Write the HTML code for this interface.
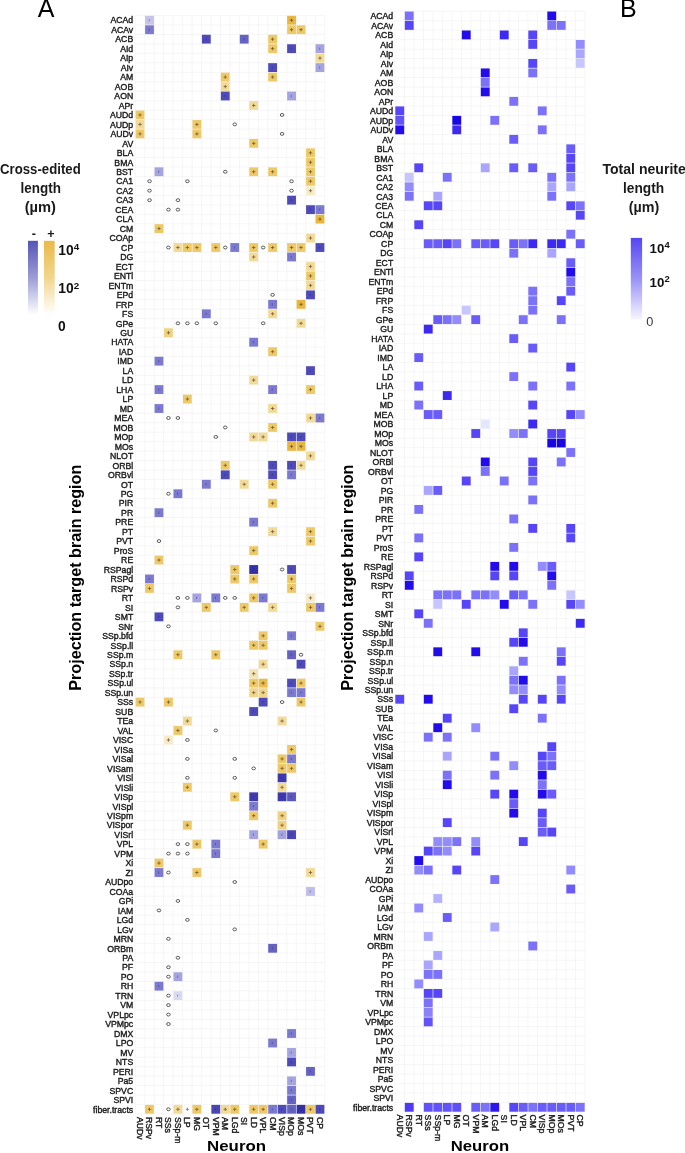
<!DOCTYPE html>
<html><head><meta charset="utf-8"><title>Cross-edited length and total neurite length</title>
<style>html,body{margin:0;padding:0;background:#fff;}body{width:685px;height:1153px;overflow:hidden;}svg{display:block;}</style>
</head><body>
<svg width="685" height="1153" viewBox="0 0 685 1153" font-family='"Liberation Sans", Arial, sans-serif'><path d="M135.3 15.5V1114.02M144.77 15.5V1114.02M154.24 15.5V1114.02M163.71 15.5V1114.02M173.18 15.5V1114.02M182.65 15.5V1114.02M192.12 15.5V1114.02M201.59 15.5V1114.02M211.06 15.5V1114.02M220.53 15.5V1114.02M230 15.5V1114.02M239.47 15.5V1114.02M248.94 15.5V1114.02M258.41 15.5V1114.02M267.88 15.5V1114.02M277.35 15.5V1114.02M286.82 15.5V1114.02M296.29 15.5V1114.02M305.76 15.5V1114.02M315.23 15.5V1114.02M324.7 15.5V1114.02M135.3 15.5H324.7M135.3 24.97H324.7M135.3 34.44H324.7M135.3 43.91H324.7M135.3 53.38H324.7M135.3 62.85H324.7M135.3 72.32H324.7M135.3 81.79H324.7M135.3 91.26H324.7M135.3 100.73H324.7M135.3 110.2H324.7M135.3 119.67H324.7M135.3 129.14H324.7M135.3 138.61H324.7M135.3 148.08H324.7M135.3 157.55H324.7M135.3 167.02H324.7M135.3 176.49H324.7M135.3 185.96H324.7M135.3 195.43H324.7M135.3 204.9H324.7M135.3 214.37H324.7M135.3 223.84H324.7M135.3 233.31H324.7M135.3 242.78H324.7M135.3 252.25H324.7M135.3 261.72H324.7M135.3 271.19H324.7M135.3 280.66H324.7M135.3 290.13H324.7M135.3 299.6H324.7M135.3 309.07H324.7M135.3 318.54H324.7M135.3 328.01H324.7M135.3 337.48H324.7M135.3 346.95H324.7M135.3 356.42H324.7M135.3 365.89H324.7M135.3 375.36H324.7M135.3 384.83H324.7M135.3 394.3H324.7M135.3 403.77H324.7M135.3 413.24H324.7M135.3 422.71H324.7M135.3 432.18H324.7M135.3 441.65H324.7M135.3 451.12H324.7M135.3 460.59H324.7M135.3 470.06H324.7M135.3 479.53H324.7M135.3 489H324.7M135.3 498.47H324.7M135.3 507.94H324.7M135.3 517.41H324.7M135.3 526.88H324.7M135.3 536.35H324.7M135.3 545.82H324.7M135.3 555.29H324.7M135.3 564.76H324.7M135.3 574.23H324.7M135.3 583.7H324.7M135.3 593.17H324.7M135.3 602.64H324.7M135.3 612.11H324.7M135.3 621.58H324.7M135.3 631.05H324.7M135.3 640.52H324.7M135.3 649.99H324.7M135.3 659.46H324.7M135.3 668.93H324.7M135.3 678.4H324.7M135.3 687.87H324.7M135.3 697.34H324.7M135.3 706.81H324.7M135.3 716.28H324.7M135.3 725.75H324.7M135.3 735.22H324.7M135.3 744.69H324.7M135.3 754.16H324.7M135.3 763.63H324.7M135.3 773.1H324.7M135.3 782.57H324.7M135.3 792.04H324.7M135.3 801.51H324.7M135.3 810.98H324.7M135.3 820.45H324.7M135.3 829.92H324.7M135.3 839.39H324.7M135.3 848.86H324.7M135.3 858.33H324.7M135.3 867.8H324.7M135.3 877.27H324.7M135.3 886.74H324.7M135.3 896.21H324.7M135.3 905.68H324.7M135.3 915.15H324.7M135.3 924.62H324.7M135.3 934.09H324.7M135.3 943.56H324.7M135.3 953.03H324.7M135.3 962.5H324.7M135.3 971.97H324.7M135.3 981.44H324.7M135.3 990.91H324.7M135.3 1000.38H324.7M135.3 1009.85H324.7M135.3 1019.32H324.7M135.3 1028.79H324.7M135.3 1038.26H324.7M135.3 1047.73H324.7M135.3 1057.2H324.7M135.3 1066.67H324.7M135.3 1076.14H324.7M135.3 1085.61H324.7M135.3 1095.08H324.7M135.3 1104.55H324.7M135.3 1114.02H324.7" stroke="#f0f0f0" stroke-width="0.6" fill="none"/><rect x="145.09" y="15.82" width="8.83" height="8.83" fill="#c5c4eb"/><path d="M149.21 19.13v2.2" stroke="#2a2a60" stroke-width="0.8" opacity="0.55"/><rect x="287.14" y="15.82" width="8.83" height="8.83" fill="#e9b740"/><path d="M289.86 20.23h3.4M291.56 18.54v3.4" stroke="#5f4a1e" stroke-width="0.75" opacity="0.9"/><rect x="145.09" y="25.29" width="8.83" height="8.83" fill="#7c7ad0"/><path d="M149.21 28.61v2.2" stroke="#2a2a60" stroke-width="0.8" opacity="0.55"/><rect x="287.14" y="25.29" width="8.83" height="8.83" fill="#eec968"/><path d="M289.86 29.71h3.4M291.56 28.01v3.4" stroke="#5f4a1e" stroke-width="0.75" opacity="0.9"/><rect x="296.61" y="25.29" width="8.83" height="8.83" fill="#eec968"/><path d="M299.33 29.71h3.4M301.03 28.01v3.4" stroke="#5f4a1e" stroke-width="0.75" opacity="0.9"/><rect x="201.91" y="34.76" width="8.83" height="8.83" fill="#4e4ab9"/><path d="M206.03 38.07v2.2" stroke="#2a2a60" stroke-width="0.8" opacity="0.55"/><rect x="239.79" y="34.76" width="8.83" height="8.83" fill="#6562c4"/><path d="M243.91 38.07v2.2" stroke="#2a2a60" stroke-width="0.8" opacity="0.55"/><rect x="268.2" y="34.76" width="8.83" height="8.83" fill="#eec968"/><path d="M270.92 39.17h3.4M272.62 37.47v3.4" stroke="#5f4a1e" stroke-width="0.75" opacity="0.9"/><rect x="268.2" y="44.23" width="8.83" height="8.83" fill="#eec968"/><path d="M270.92 48.65h3.4M272.62 46.95v3.4" stroke="#5f4a1e" stroke-width="0.75" opacity="0.9"/><rect x="287.14" y="44.23" width="8.83" height="8.83" fill="#4e4ab9"/><path d="M291.26 47.55v2.2" stroke="#2a2a60" stroke-width="0.8" opacity="0.55"/><rect x="315.55" y="44.23" width="8.83" height="8.83" fill="#a5a3e0"/><path d="M319.67 47.55v2.2" stroke="#2a2a60" stroke-width="0.8" opacity="0.55"/><rect x="315.55" y="53.7" width="8.83" height="8.83" fill="#f2db98"/><path d="M318.27 58.12h3.4M319.97 56.41v3.4" stroke="#5f4a1e" stroke-width="0.75" opacity="0.9"/><rect x="268.2" y="63.17" width="8.83" height="8.83" fill="#4e4ab9"/><path d="M272.31 66.49v2.2" stroke="#2a2a60" stroke-width="0.8" opacity="0.55"/><rect x="315.55" y="63.17" width="8.83" height="8.83" fill="#a5a3e0"/><path d="M319.67 66.49v2.2" stroke="#2a2a60" stroke-width="0.8" opacity="0.55"/><rect x="220.85" y="72.64" width="8.83" height="8.83" fill="#eec968"/><path d="M223.57 77.06h3.4M225.27 75.36v3.4" stroke="#5f4a1e" stroke-width="0.75" opacity="0.9"/><rect x="268.2" y="72.64" width="8.83" height="8.83" fill="#eec968"/><path d="M270.92 77.06h3.4M272.62 75.36v3.4" stroke="#5f4a1e" stroke-width="0.75" opacity="0.9"/><rect x="220.85" y="82.11" width="8.83" height="8.83" fill="#f2db98"/><path d="M223.57 86.53h3.4M225.27 84.83v3.4" stroke="#5f4a1e" stroke-width="0.75" opacity="0.9"/><rect x="220.85" y="91.58" width="8.83" height="8.83" fill="#4e4ab9"/><path d="M224.97 94.9v2.2" stroke="#2a2a60" stroke-width="0.8" opacity="0.55"/><rect x="287.14" y="91.58" width="8.83" height="8.83" fill="#a5a3e0"/><path d="M291.26 94.9v2.2" stroke="#2a2a60" stroke-width="0.8" opacity="0.55"/><rect x="249.26" y="101.05" width="8.83" height="8.83" fill="#f2db98"/><path d="M251.98 105.47h3.4M253.68 103.77v3.4" stroke="#5f4a1e" stroke-width="0.75" opacity="0.9"/><rect x="135.62" y="110.52" width="8.83" height="8.83" fill="#eec968"/><path d="M138.34 114.94h3.4M140.04 113.23v3.4" stroke="#5f4a1e" stroke-width="0.75" opacity="0.9"/><ellipse cx="282.09" cy="114.94" rx="1.8" ry="1.45" fill="none" stroke="#4a4a4a" stroke-width="0.9"/><rect x="135.62" y="119.99" width="8.83" height="8.83" fill="#f2db98"/><path d="M138.34 124.41h3.4M140.04 122.7v3.4" stroke="#5f4a1e" stroke-width="0.75" opacity="0.9"/><rect x="192.44" y="119.99" width="8.83" height="8.83" fill="#eec968"/><path d="M195.16 124.41h3.4M196.86 122.7v3.4" stroke="#5f4a1e" stroke-width="0.75" opacity="0.9"/><ellipse cx="234.74" cy="124.41" rx="1.8" ry="1.45" fill="none" stroke="#4a4a4a" stroke-width="0.9"/><rect x="135.62" y="129.46" width="8.83" height="8.83" fill="#eec968"/><path d="M138.34 133.88h3.4M140.04 132.18v3.4" stroke="#5f4a1e" stroke-width="0.75" opacity="0.9"/><rect x="192.44" y="129.46" width="8.83" height="8.83" fill="#eec968"/><path d="M195.16 133.88h3.4M196.86 132.18v3.4" stroke="#5f4a1e" stroke-width="0.75" opacity="0.9"/><ellipse cx="282.09" cy="133.88" rx="1.8" ry="1.45" fill="none" stroke="#4a4a4a" stroke-width="0.9"/><rect x="249.26" y="138.93" width="8.83" height="8.83" fill="#eec968"/><path d="M251.98 143.35h3.4M253.68 141.65v3.4" stroke="#5f4a1e" stroke-width="0.75" opacity="0.9"/><rect x="306.08" y="148.4" width="8.83" height="8.83" fill="#eec968"/><path d="M308.8 152.81h3.4M310.5 151.12v3.4" stroke="#5f4a1e" stroke-width="0.75" opacity="0.9"/><rect x="306.08" y="157.87" width="8.83" height="8.83" fill="#eec968"/><path d="M308.8 162.28h3.4M310.5 160.59v3.4" stroke="#5f4a1e" stroke-width="0.75" opacity="0.9"/><rect x="154.56" y="167.34" width="8.83" height="8.83" fill="#a5a3e0"/><path d="M158.68 170.66v2.2" stroke="#2a2a60" stroke-width="0.8" opacity="0.55"/><ellipse cx="225.27" cy="171.76" rx="1.8" ry="1.45" fill="none" stroke="#4a4a4a" stroke-width="0.9"/><rect x="249.26" y="167.34" width="8.83" height="8.83" fill="#eec968"/><path d="M251.98 171.76h3.4M253.68 170.06v3.4" stroke="#5f4a1e" stroke-width="0.75" opacity="0.9"/><rect x="268.2" y="167.34" width="8.83" height="8.83" fill="#eec968"/><path d="M270.92 171.76h3.4M272.62 170.06v3.4" stroke="#5f4a1e" stroke-width="0.75" opacity="0.9"/><rect x="306.08" y="167.34" width="8.83" height="8.83" fill="#eec968"/><path d="M308.8 171.76h3.4M310.5 170.06v3.4" stroke="#5f4a1e" stroke-width="0.75" opacity="0.9"/><ellipse cx="149.51" cy="181.23" rx="1.8" ry="1.45" fill="none" stroke="#4a4a4a" stroke-width="0.9"/><ellipse cx="187.39" cy="181.23" rx="1.8" ry="1.45" fill="none" stroke="#4a4a4a" stroke-width="0.9"/><ellipse cx="291.56" cy="181.23" rx="1.8" ry="1.45" fill="none" stroke="#4a4a4a" stroke-width="0.9"/><rect x="306.08" y="176.81" width="8.83" height="8.83" fill="#eec968"/><path d="M308.8 181.23h3.4M310.5 179.53v3.4" stroke="#5f4a1e" stroke-width="0.75" opacity="0.9"/><ellipse cx="149.51" cy="190.7" rx="1.8" ry="1.45" fill="none" stroke="#4a4a4a" stroke-width="0.9"/><ellipse cx="291.56" cy="190.7" rx="1.8" ry="1.45" fill="none" stroke="#4a4a4a" stroke-width="0.9"/><rect x="306.08" y="186.28" width="8.83" height="8.83" fill="#f7ecca"/><path d="M308.8 190.7h3.4M310.5 189v3.4" stroke="#5f4a1e" stroke-width="0.75" opacity="0.9"/><ellipse cx="149.51" cy="200.17" rx="1.8" ry="1.45" fill="none" stroke="#4a4a4a" stroke-width="0.9"/><ellipse cx="177.92" cy="200.17" rx="1.8" ry="1.45" fill="none" stroke="#4a4a4a" stroke-width="0.9"/><rect x="287.14" y="195.75" width="8.83" height="8.83" fill="#4e4ab9"/><path d="M291.26 199.07v2.2" stroke="#2a2a60" stroke-width="0.8" opacity="0.55"/><ellipse cx="168.45" cy="209.64" rx="1.8" ry="1.45" fill="none" stroke="#4a4a4a" stroke-width="0.9"/><ellipse cx="177.92" cy="209.64" rx="1.8" ry="1.45" fill="none" stroke="#4a4a4a" stroke-width="0.9"/><rect x="306.08" y="205.22" width="8.83" height="8.83" fill="#4e4ab9"/><path d="M310.19 208.54v2.2" stroke="#2a2a60" stroke-width="0.8" opacity="0.55"/><rect x="315.55" y="205.22" width="8.83" height="8.83" fill="#7c7ad0"/><path d="M319.67 208.54v2.2" stroke="#2a2a60" stroke-width="0.8" opacity="0.55"/><rect x="315.55" y="214.69" width="8.83" height="8.83" fill="#e9b740"/><path d="M318.27 219.11h3.4M319.97 217.41v3.4" stroke="#5f4a1e" stroke-width="0.75" opacity="0.9"/><rect x="154.56" y="224.16" width="8.83" height="8.83" fill="#eec968"/><path d="M157.28 228.58h3.4M158.98 226.88v3.4" stroke="#5f4a1e" stroke-width="0.75" opacity="0.9"/><rect x="306.08" y="233.63" width="8.83" height="8.83" fill="#f2db98"/><path d="M308.8 238.05h3.4M310.5 236.35v3.4" stroke="#5f4a1e" stroke-width="0.75" opacity="0.9"/><ellipse cx="168.45" cy="247.52" rx="1.8" ry="1.45" fill="none" stroke="#4a4a4a" stroke-width="0.9"/><rect x="173.5" y="243.1" width="8.83" height="8.83" fill="#f2db98"/><path d="M176.22 247.52h3.4M177.92 245.82v3.4" stroke="#5f4a1e" stroke-width="0.75" opacity="0.9"/><rect x="182.97" y="243.1" width="8.83" height="8.83" fill="#eec968"/><path d="M185.69 247.52h3.4M187.39 245.82v3.4" stroke="#5f4a1e" stroke-width="0.75" opacity="0.9"/><rect x="192.44" y="243.1" width="8.83" height="8.83" fill="#eec968"/><path d="M195.16 247.52h3.4M196.86 245.82v3.4" stroke="#5f4a1e" stroke-width="0.75" opacity="0.9"/><rect x="211.38" y="243.1" width="8.83" height="8.83" fill="#eec968"/><path d="M214.1 247.52h3.4M215.8 245.82v3.4" stroke="#5f4a1e" stroke-width="0.75" opacity="0.9"/><ellipse cx="225.27" cy="247.52" rx="1.8" ry="1.45" fill="none" stroke="#4a4a4a" stroke-width="0.9"/><rect x="230.32" y="243.1" width="8.83" height="8.83" fill="#7c7ad0"/><path d="M234.44 246.42v2.2" stroke="#2a2a60" stroke-width="0.8" opacity="0.55"/><rect x="249.26" y="243.1" width="8.83" height="8.83" fill="#eec968"/><path d="M251.98 247.52h3.4M253.68 245.82v3.4" stroke="#5f4a1e" stroke-width="0.75" opacity="0.9"/><ellipse cx="263.15" cy="247.52" rx="1.8" ry="1.45" fill="none" stroke="#4a4a4a" stroke-width="0.9"/><rect x="268.2" y="243.1" width="8.83" height="8.83" fill="#eec968"/><path d="M270.92 247.52h3.4M272.62 245.82v3.4" stroke="#5f4a1e" stroke-width="0.75" opacity="0.9"/><rect x="287.14" y="243.1" width="8.83" height="8.83" fill="#eec968"/><path d="M289.86 247.52h3.4M291.56 245.82v3.4" stroke="#5f4a1e" stroke-width="0.75" opacity="0.9"/><rect x="296.61" y="243.1" width="8.83" height="8.83" fill="#eec968"/><path d="M299.33 247.52h3.4M301.03 245.82v3.4" stroke="#5f4a1e" stroke-width="0.75" opacity="0.9"/><rect x="315.55" y="243.1" width="8.83" height="8.83" fill="#4e4ab9"/><path d="M319.67 246.42v2.2" stroke="#2a2a60" stroke-width="0.8" opacity="0.55"/><rect x="249.26" y="252.57" width="8.83" height="8.83" fill="#f2db98"/><path d="M251.98 256.99h3.4M253.68 255.29v3.4" stroke="#5f4a1e" stroke-width="0.75" opacity="0.9"/><rect x="287.14" y="252.57" width="8.83" height="8.83" fill="#7c7ad0"/><path d="M291.26 255.89v2.2" stroke="#2a2a60" stroke-width="0.8" opacity="0.55"/><rect x="306.08" y="262.04" width="8.83" height="8.83" fill="#f2db98"/><path d="M308.8 266.46h3.4M310.5 264.76v3.4" stroke="#5f4a1e" stroke-width="0.75" opacity="0.9"/><rect x="306.08" y="271.51" width="8.83" height="8.83" fill="#eec968"/><path d="M308.8 275.93h3.4M310.5 274.23v3.4" stroke="#5f4a1e" stroke-width="0.75" opacity="0.9"/><rect x="306.08" y="280.98" width="8.83" height="8.83" fill="#f2db98"/><path d="M308.8 285.4h3.4M310.5 283.7v3.4" stroke="#5f4a1e" stroke-width="0.75" opacity="0.9"/><ellipse cx="272.62" cy="294.87" rx="1.8" ry="1.45" fill="none" stroke="#4a4a4a" stroke-width="0.9"/><rect x="306.08" y="290.45" width="8.83" height="8.83" fill="#4e4ab9"/><path d="M310.19 293.76v2.2" stroke="#2a2a60" stroke-width="0.8" opacity="0.55"/><rect x="268.2" y="299.92" width="8.83" height="8.83" fill="#7c7ad0"/><path d="M272.31 303.24v2.2" stroke="#2a2a60" stroke-width="0.8" opacity="0.55"/><rect x="296.61" y="299.92" width="8.83" height="8.83" fill="#e9b740"/><path d="M299.33 304.34h3.4M301.03 302.64v3.4" stroke="#5f4a1e" stroke-width="0.75" opacity="0.9"/><rect x="201.91" y="309.39" width="8.83" height="8.83" fill="#7c7ad0"/><path d="M206.03 312.7v2.2" stroke="#2a2a60" stroke-width="0.8" opacity="0.55"/><rect x="268.2" y="309.39" width="8.83" height="8.83" fill="#f2db98"/><path d="M270.92 313.81h3.4M272.62 312.11v3.4" stroke="#5f4a1e" stroke-width="0.75" opacity="0.9"/><ellipse cx="177.92" cy="323.28" rx="1.8" ry="1.45" fill="none" stroke="#4a4a4a" stroke-width="0.9"/><ellipse cx="187.39" cy="323.28" rx="1.8" ry="1.45" fill="none" stroke="#4a4a4a" stroke-width="0.9"/><ellipse cx="196.86" cy="323.28" rx="1.8" ry="1.45" fill="none" stroke="#4a4a4a" stroke-width="0.9"/><ellipse cx="215.8" cy="323.28" rx="1.8" ry="1.45" fill="none" stroke="#4a4a4a" stroke-width="0.9"/><ellipse cx="263.15" cy="323.28" rx="1.8" ry="1.45" fill="none" stroke="#4a4a4a" stroke-width="0.9"/><rect x="296.61" y="318.86" width="8.83" height="8.83" fill="#f2db98"/><path d="M299.33 323.28h3.4M301.03 321.58v3.4" stroke="#5f4a1e" stroke-width="0.75" opacity="0.9"/><rect x="164.03" y="328.33" width="8.83" height="8.83" fill="#f0d280"/><path d="M166.75 332.75h3.4M168.45 331.05v3.4" stroke="#5f4a1e" stroke-width="0.75" opacity="0.9"/><rect x="249.26" y="337.8" width="8.83" height="8.83" fill="#7c7ad0"/><path d="M253.38 341.12v2.2" stroke="#2a2a60" stroke-width="0.8" opacity="0.55"/><rect x="268.2" y="347.27" width="8.83" height="8.83" fill="#eec968"/><path d="M270.92 351.69h3.4M272.62 349.99v3.4" stroke="#5f4a1e" stroke-width="0.75" opacity="0.9"/><rect x="154.56" y="356.74" width="8.83" height="8.83" fill="#7c7ad0"/><path d="M158.68 360.06v2.2" stroke="#2a2a60" stroke-width="0.8" opacity="0.55"/><rect x="306.08" y="366.21" width="8.83" height="8.83" fill="#4e4ab9"/><path d="M310.19 369.52v2.2" stroke="#2a2a60" stroke-width="0.8" opacity="0.55"/><rect x="249.26" y="375.68" width="8.83" height="8.83" fill="#f2db98"/><path d="M251.98 380.1h3.4M253.68 378.4v3.4" stroke="#5f4a1e" stroke-width="0.75" opacity="0.9"/><rect x="154.56" y="385.15" width="8.83" height="8.83" fill="#7c7ad0"/><path d="M158.68 388.46v2.2" stroke="#2a2a60" stroke-width="0.8" opacity="0.55"/><rect x="268.2" y="385.15" width="8.83" height="8.83" fill="#7c7ad0"/><path d="M272.31 388.46v2.2" stroke="#2a2a60" stroke-width="0.8" opacity="0.55"/><rect x="306.08" y="385.15" width="8.83" height="8.83" fill="#eec968"/><path d="M308.8 389.56h3.4M310.5 387.87v3.4" stroke="#5f4a1e" stroke-width="0.75" opacity="0.9"/><rect x="182.97" y="394.62" width="8.83" height="8.83" fill="#eec968"/><path d="M185.69 399.04h3.4M187.39 397.34v3.4" stroke="#5f4a1e" stroke-width="0.75" opacity="0.9"/><rect x="154.56" y="404.09" width="8.83" height="8.83" fill="#7c7ad0"/><path d="M158.68 407.41v2.2" stroke="#2a2a60" stroke-width="0.8" opacity="0.55"/><rect x="268.2" y="404.09" width="8.83" height="8.83" fill="#f2db98"/><path d="M270.92 408.51h3.4M272.62 406.81v3.4" stroke="#5f4a1e" stroke-width="0.75" opacity="0.9"/><ellipse cx="168.45" cy="417.98" rx="1.8" ry="1.45" fill="none" stroke="#4a4a4a" stroke-width="0.9"/><ellipse cx="177.92" cy="417.98" rx="1.8" ry="1.45" fill="none" stroke="#4a4a4a" stroke-width="0.9"/><rect x="306.08" y="413.56" width="8.83" height="8.83" fill="#f2db98"/><path d="M308.8 417.98h3.4M310.5 416.28v3.4" stroke="#5f4a1e" stroke-width="0.75" opacity="0.9"/><rect x="315.55" y="413.56" width="8.83" height="8.83" fill="#7c7ad0"/><path d="M319.67 416.88v2.2" stroke="#2a2a60" stroke-width="0.8" opacity="0.55"/><ellipse cx="225.27" cy="427.45" rx="1.8" ry="1.45" fill="none" stroke="#4a4a4a" stroke-width="0.9"/><rect x="268.2" y="423.03" width="8.83" height="8.83" fill="#eec968"/><path d="M270.92 427.45h3.4M272.62 425.75v3.4" stroke="#5f4a1e" stroke-width="0.75" opacity="0.9"/><ellipse cx="215.8" cy="436.92" rx="1.8" ry="1.45" fill="none" stroke="#4a4a4a" stroke-width="0.9"/><rect x="249.26" y="432.5" width="8.83" height="8.83" fill="#f2db98"/><path d="M251.98 436.92h3.4M253.68 435.22v3.4" stroke="#5f4a1e" stroke-width="0.75" opacity="0.9"/><rect x="258.73" y="432.5" width="8.83" height="8.83" fill="#f2db98"/><path d="M261.45 436.92h3.4M263.15 435.22v3.4" stroke="#5f4a1e" stroke-width="0.75" opacity="0.9"/><rect x="287.14" y="432.5" width="8.83" height="8.83" fill="#4e4ab9"/><path d="M291.26 435.81v2.2" stroke="#2a2a60" stroke-width="0.8" opacity="0.55"/><rect x="296.61" y="432.5" width="8.83" height="8.83" fill="#4e4ab9"/><path d="M300.73 435.81v2.2" stroke="#2a2a60" stroke-width="0.8" opacity="0.55"/><rect x="287.14" y="441.97" width="8.83" height="8.83" fill="#e9b740"/><path d="M289.86 446.39h3.4M291.56 444.69v3.4" stroke="#5f4a1e" stroke-width="0.75" opacity="0.9"/><rect x="296.61" y="441.97" width="8.83" height="8.83" fill="#e9b740"/><path d="M299.33 446.39h3.4M301.03 444.69v3.4" stroke="#5f4a1e" stroke-width="0.75" opacity="0.9"/><rect x="306.08" y="451.44" width="8.83" height="8.83" fill="#f2db98"/><path d="M308.8 455.86h3.4M310.5 454.16v3.4" stroke="#5f4a1e" stroke-width="0.75" opacity="0.9"/><rect x="220.85" y="460.91" width="8.83" height="8.83" fill="#eec968"/><path d="M223.57 465.33h3.4M225.27 463.63v3.4" stroke="#5f4a1e" stroke-width="0.75" opacity="0.9"/><rect x="268.2" y="460.91" width="8.83" height="8.83" fill="#4e4ab9"/><path d="M272.31 464.23v2.2" stroke="#2a2a60" stroke-width="0.8" opacity="0.55"/><rect x="287.14" y="460.91" width="8.83" height="8.83" fill="#4e4ab9"/><path d="M291.26 464.23v2.2" stroke="#2a2a60" stroke-width="0.8" opacity="0.55"/><rect x="296.61" y="460.91" width="8.83" height="8.83" fill="#f2db98"/><path d="M299.33 465.33h3.4M301.03 463.63v3.4" stroke="#5f4a1e" stroke-width="0.75" opacity="0.9"/><rect x="220.85" y="470.38" width="8.83" height="8.83" fill="#4e4ab9"/><path d="M224.97 473.69v2.2" stroke="#2a2a60" stroke-width="0.8" opacity="0.55"/><rect x="268.2" y="470.38" width="8.83" height="8.83" fill="#4e4ab9"/><path d="M272.31 473.69v2.2" stroke="#2a2a60" stroke-width="0.8" opacity="0.55"/><rect x="287.14" y="470.38" width="8.83" height="8.83" fill="#7c7ad0"/><path d="M291.26 473.69v2.2" stroke="#2a2a60" stroke-width="0.8" opacity="0.55"/><rect x="201.91" y="479.85" width="8.83" height="8.83" fill="#7c7ad0"/><path d="M206.03 483.17v2.2" stroke="#2a2a60" stroke-width="0.8" opacity="0.55"/><rect x="239.79" y="479.85" width="8.83" height="8.83" fill="#f2db98"/><path d="M242.51 484.27h3.4M244.21 482.57v3.4" stroke="#5f4a1e" stroke-width="0.75" opacity="0.9"/><rect x="268.2" y="479.85" width="8.83" height="8.83" fill="#eec968"/><path d="M270.92 484.27h3.4M272.62 482.57v3.4" stroke="#5f4a1e" stroke-width="0.75" opacity="0.9"/><ellipse cx="168.45" cy="493.74" rx="1.8" ry="1.45" fill="none" stroke="#4a4a4a" stroke-width="0.9"/><rect x="173.5" y="489.32" width="8.83" height="8.83" fill="#7c7ad0"/><path d="M177.62 492.63v2.2" stroke="#2a2a60" stroke-width="0.8" opacity="0.55"/><rect x="268.2" y="498.79" width="8.83" height="8.83" fill="#eec968"/><path d="M270.92 503.21h3.4M272.62 501.51v3.4" stroke="#5f4a1e" stroke-width="0.75" opacity="0.9"/><rect x="154.56" y="508.26" width="8.83" height="8.83" fill="#7c7ad0"/><path d="M158.68 511.57v2.2" stroke="#2a2a60" stroke-width="0.8" opacity="0.55"/><rect x="249.26" y="517.73" width="8.83" height="8.83" fill="#7c7ad0"/><path d="M253.38 521.04v2.2" stroke="#2a2a60" stroke-width="0.8" opacity="0.55"/><rect x="268.2" y="527.2" width="8.83" height="8.83" fill="#f2db98"/><path d="M270.92 531.62h3.4M272.62 529.91v3.4" stroke="#5f4a1e" stroke-width="0.75" opacity="0.9"/><rect x="306.08" y="527.2" width="8.83" height="8.83" fill="#eec968"/><path d="M308.8 531.62h3.4M310.5 529.91v3.4" stroke="#5f4a1e" stroke-width="0.75" opacity="0.9"/><ellipse cx="158.98" cy="541.09" rx="1.8" ry="1.45" fill="none" stroke="#4a4a4a" stroke-width="0.9"/><rect x="306.08" y="536.67" width="8.83" height="8.83" fill="#eec968"/><path d="M308.8 541.09h3.4M310.5 539.38v3.4" stroke="#5f4a1e" stroke-width="0.75" opacity="0.9"/><rect x="249.26" y="546.14" width="8.83" height="8.83" fill="#eec968"/><path d="M251.98 550.56h3.4M253.68 548.86v3.4" stroke="#5f4a1e" stroke-width="0.75" opacity="0.9"/><rect x="154.56" y="555.61" width="8.83" height="8.83" fill="#eec968"/><path d="M157.28 560.03h3.4M158.98 558.33v3.4" stroke="#5f4a1e" stroke-width="0.75" opacity="0.9"/><rect x="230.32" y="565.08" width="8.83" height="8.83" fill="#eec968"/><path d="M233.04 569.5h3.4M234.74 567.79v3.4" stroke="#5f4a1e" stroke-width="0.75" opacity="0.9"/><rect x="249.26" y="565.08" width="8.83" height="8.83" fill="#3430a5"/><path d="M253.38 568.39v2.2" stroke="#2a2a60" stroke-width="0.8" opacity="0.55"/><ellipse cx="282.09" cy="569.5" rx="1.8" ry="1.45" fill="none" stroke="#4a4a4a" stroke-width="0.9"/><rect x="287.14" y="565.08" width="8.83" height="8.83" fill="#4e4ab9"/><path d="M291.26 568.39v2.2" stroke="#2a2a60" stroke-width="0.8" opacity="0.55"/><rect x="145.09" y="574.55" width="8.83" height="8.83" fill="#7c7ad0"/><path d="M149.21 577.87v2.2" stroke="#2a2a60" stroke-width="0.8" opacity="0.55"/><rect x="230.32" y="574.55" width="8.83" height="8.83" fill="#eec968"/><path d="M233.04 578.97h3.4M234.74 577.26v3.4" stroke="#5f4a1e" stroke-width="0.75" opacity="0.9"/><rect x="249.26" y="574.55" width="8.83" height="8.83" fill="#eec968"/><path d="M251.98 578.97h3.4M253.68 577.26v3.4" stroke="#5f4a1e" stroke-width="0.75" opacity="0.9"/><rect x="287.14" y="574.55" width="8.83" height="8.83" fill="#eec968"/><path d="M289.86 578.97h3.4M291.56 577.26v3.4" stroke="#5f4a1e" stroke-width="0.75" opacity="0.9"/><rect x="145.09" y="584.02" width="8.83" height="8.83" fill="#eec968"/><path d="M147.81 588.44h3.4M149.51 586.74v3.4" stroke="#5f4a1e" stroke-width="0.75" opacity="0.9"/><rect x="287.14" y="584.02" width="8.83" height="8.83" fill="#eec968"/><path d="M289.86 588.44h3.4M291.56 586.74v3.4" stroke="#5f4a1e" stroke-width="0.75" opacity="0.9"/><ellipse cx="177.92" cy="597.91" rx="1.8" ry="1.45" fill="none" stroke="#4a4a4a" stroke-width="0.9"/><ellipse cx="187.39" cy="597.91" rx="1.8" ry="1.45" fill="none" stroke="#4a4a4a" stroke-width="0.9"/><rect x="192.44" y="593.49" width="8.83" height="8.83" fill="#a5a3e0"/><path d="M196.56 596.81v2.2" stroke="#2a2a60" stroke-width="0.8" opacity="0.55"/><rect x="211.38" y="593.49" width="8.83" height="8.83" fill="#7c7ad0"/><path d="M215.5 596.81v2.2" stroke="#2a2a60" stroke-width="0.8" opacity="0.55"/><ellipse cx="225.27" cy="597.91" rx="1.8" ry="1.45" fill="none" stroke="#4a4a4a" stroke-width="0.9"/><ellipse cx="234.74" cy="597.91" rx="1.8" ry="1.45" fill="none" stroke="#4a4a4a" stroke-width="0.9"/><rect x="249.26" y="593.49" width="8.83" height="8.83" fill="#eec968"/><path d="M251.98 597.91h3.4M253.68 596.21v3.4" stroke="#5f4a1e" stroke-width="0.75" opacity="0.9"/><rect x="258.73" y="593.49" width="8.83" height="8.83" fill="#7c7ad0"/><path d="M262.85 596.81v2.2" stroke="#2a2a60" stroke-width="0.8" opacity="0.55"/><rect x="306.08" y="593.49" width="8.83" height="8.83" fill="#f7ecca"/><path d="M308.8 597.91h3.4M310.5 596.21v3.4" stroke="#5f4a1e" stroke-width="0.75" opacity="0.9"/><ellipse cx="177.92" cy="607.38" rx="1.8" ry="1.45" fill="none" stroke="#4a4a4a" stroke-width="0.9"/><rect x="201.91" y="602.96" width="8.83" height="8.83" fill="#eec968"/><path d="M204.63 607.38h3.4M206.33 605.67v3.4" stroke="#5f4a1e" stroke-width="0.75" opacity="0.9"/><rect x="239.79" y="602.96" width="8.83" height="8.83" fill="#eec968"/><path d="M242.51 607.38h3.4M244.21 605.67v3.4" stroke="#5f4a1e" stroke-width="0.75" opacity="0.9"/><rect x="268.2" y="602.96" width="8.83" height="8.83" fill="#f2db98"/><path d="M270.92 607.38h3.4M272.62 605.67v3.4" stroke="#5f4a1e" stroke-width="0.75" opacity="0.9"/><rect x="306.08" y="602.96" width="8.83" height="8.83" fill="#eec968"/><path d="M308.8 607.38h3.4M310.5 605.67v3.4" stroke="#5f4a1e" stroke-width="0.75" opacity="0.9"/><rect x="315.55" y="602.96" width="8.83" height="8.83" fill="#7c7ad0"/><path d="M319.67 606.27v2.2" stroke="#2a2a60" stroke-width="0.8" opacity="0.55"/><rect x="154.56" y="612.43" width="8.83" height="8.83" fill="#4e4ab9"/><path d="M158.68 615.75v2.2" stroke="#2a2a60" stroke-width="0.8" opacity="0.55"/><ellipse cx="168.45" cy="626.32" rx="1.8" ry="1.45" fill="none" stroke="#4a4a4a" stroke-width="0.9"/><rect x="315.55" y="621.9" width="8.83" height="8.83" fill="#eec968"/><path d="M318.27 626.32h3.4M319.97 624.62v3.4" stroke="#5f4a1e" stroke-width="0.75" opacity="0.9"/><rect x="258.73" y="631.37" width="8.83" height="8.83" fill="#eec968"/><path d="M261.45 635.79h3.4M263.15 634.09v3.4" stroke="#5f4a1e" stroke-width="0.75" opacity="0.9"/><rect x="287.14" y="631.37" width="8.83" height="8.83" fill="#7c7ad0"/><path d="M291.26 634.69v2.2" stroke="#2a2a60" stroke-width="0.8" opacity="0.55"/><rect x="249.26" y="640.84" width="8.83" height="8.83" fill="#eec968"/><path d="M251.98 645.25h3.4M253.68 643.55v3.4" stroke="#5f4a1e" stroke-width="0.75" opacity="0.9"/><rect x="258.73" y="640.84" width="8.83" height="8.83" fill="#eec968"/><path d="M261.45 645.25h3.4M263.15 643.55v3.4" stroke="#5f4a1e" stroke-width="0.75" opacity="0.9"/><rect x="173.5" y="650.31" width="8.83" height="8.83" fill="#eec968"/><path d="M176.22 654.73h3.4M177.92 653.02v3.4" stroke="#5f4a1e" stroke-width="0.75" opacity="0.9"/><rect x="211.38" y="650.31" width="8.83" height="8.83" fill="#eec968"/><path d="M214.1 654.73h3.4M215.8 653.02v3.4" stroke="#5f4a1e" stroke-width="0.75" opacity="0.9"/><rect x="287.14" y="650.31" width="8.83" height="8.83" fill="#6562c4"/><path d="M291.26 653.62v2.2" stroke="#2a2a60" stroke-width="0.8" opacity="0.55"/><ellipse cx="301.03" cy="654.73" rx="1.8" ry="1.45" fill="none" stroke="#4a4a4a" stroke-width="0.9"/><rect x="258.73" y="659.78" width="8.83" height="8.83" fill="#f2db98"/><path d="M261.45 664.2h3.4M263.15 662.5v3.4" stroke="#5f4a1e" stroke-width="0.75" opacity="0.9"/><rect x="296.61" y="659.78" width="8.83" height="8.83" fill="#4e4ab9"/><path d="M300.73 663.1v2.2" stroke="#2a2a60" stroke-width="0.8" opacity="0.55"/><rect x="249.26" y="669.25" width="8.83" height="8.83" fill="#f4e4b1"/><path d="M251.98 673.67h3.4M253.68 671.97v3.4" stroke="#5f4a1e" stroke-width="0.75" opacity="0.9"/><rect x="249.26" y="678.72" width="8.83" height="8.83" fill="#eec968"/><path d="M251.98 683.13h3.4M253.68 681.43v3.4" stroke="#5f4a1e" stroke-width="0.75" opacity="0.9"/><rect x="258.73" y="678.72" width="8.83" height="8.83" fill="#eabc4c"/><path d="M261.45 683.13h3.4M263.15 681.43v3.4" stroke="#5f4a1e" stroke-width="0.75" opacity="0.9"/><rect x="287.14" y="678.72" width="8.83" height="8.83" fill="#4e4ab9"/><path d="M291.26 682.03v2.2" stroke="#2a2a60" stroke-width="0.8" opacity="0.55"/><rect x="296.61" y="678.72" width="8.83" height="8.83" fill="#eec968"/><path d="M299.33 683.13h3.4M301.03 681.43v3.4" stroke="#5f4a1e" stroke-width="0.75" opacity="0.9"/><rect x="249.26" y="688.19" width="8.83" height="8.83" fill="#f1d68a"/><path d="M251.98 692.61h3.4M253.68 690.9v3.4" stroke="#5f4a1e" stroke-width="0.75" opacity="0.9"/><rect x="258.73" y="688.19" width="8.83" height="8.83" fill="#f1d68a"/><path d="M261.45 692.61h3.4M263.15 690.9v3.4" stroke="#5f4a1e" stroke-width="0.75" opacity="0.9"/><rect x="287.14" y="688.19" width="8.83" height="8.83" fill="#7c7ad0"/><path d="M291.26 691.5v2.2" stroke="#2a2a60" stroke-width="0.8" opacity="0.55"/><rect x="296.61" y="688.19" width="8.83" height="8.83" fill="#7c7ad0"/><path d="M300.73 691.5v2.2" stroke="#2a2a60" stroke-width="0.8" opacity="0.55"/><rect x="135.62" y="697.66" width="8.83" height="8.83" fill="#eec968"/><path d="M138.34 702.08h3.4M140.04 700.38v3.4" stroke="#5f4a1e" stroke-width="0.75" opacity="0.9"/><rect x="164.03" y="697.66" width="8.83" height="8.83" fill="#eec968"/><path d="M166.75 702.08h3.4M168.45 700.38v3.4" stroke="#5f4a1e" stroke-width="0.75" opacity="0.9"/><rect x="258.73" y="697.66" width="8.83" height="8.83" fill="#4e4ab9"/><path d="M262.85 700.98v2.2" stroke="#2a2a60" stroke-width="0.8" opacity="0.55"/><ellipse cx="282.09" cy="702.08" rx="1.8" ry="1.45" fill="none" stroke="#4a4a4a" stroke-width="0.9"/><rect x="296.61" y="697.66" width="8.83" height="8.83" fill="#eec968"/><path d="M299.33 702.08h3.4M301.03 700.38v3.4" stroke="#5f4a1e" stroke-width="0.75" opacity="0.9"/><rect x="249.26" y="707.13" width="8.83" height="8.83" fill="#4e4ab9"/><path d="M253.38 710.45v2.2" stroke="#2a2a60" stroke-width="0.8" opacity="0.55"/><rect x="182.97" y="716.6" width="8.83" height="8.83" fill="#f2db98"/><path d="M185.69 721.02h3.4M187.39 719.32v3.4" stroke="#5f4a1e" stroke-width="0.75" opacity="0.9"/><rect x="277.67" y="716.6" width="8.83" height="8.83" fill="#f2db98"/><path d="M280.39 721.02h3.4M282.09 719.32v3.4" stroke="#5f4a1e" stroke-width="0.75" opacity="0.9"/><rect x="173.5" y="726.07" width="8.83" height="8.83" fill="#eec968"/><path d="M176.22 730.49h3.4M177.92 728.78v3.4" stroke="#5f4a1e" stroke-width="0.75" opacity="0.9"/><ellipse cx="215.8" cy="730.49" rx="1.8" ry="1.45" fill="none" stroke="#4a4a4a" stroke-width="0.9"/><rect x="164.03" y="735.54" width="8.83" height="8.83" fill="#f7ecca"/><path d="M166.75 739.96h3.4M168.45 738.25v3.4" stroke="#5f4a1e" stroke-width="0.75" opacity="0.9"/><ellipse cx="187.39" cy="739.96" rx="1.8" ry="1.45" fill="none" stroke="#4a4a4a" stroke-width="0.9"/><rect x="287.14" y="745.01" width="8.83" height="8.83" fill="#eec968"/><path d="M289.86 749.43h3.4M291.56 747.73v3.4" stroke="#5f4a1e" stroke-width="0.75" opacity="0.9"/><ellipse cx="187.39" cy="758.9" rx="1.8" ry="1.45" fill="none" stroke="#4a4a4a" stroke-width="0.9"/><ellipse cx="234.74" cy="758.9" rx="1.8" ry="1.45" fill="none" stroke="#4a4a4a" stroke-width="0.9"/><rect x="277.67" y="754.48" width="8.83" height="8.83" fill="#eec968"/><path d="M280.39 758.9h3.4M282.09 757.2v3.4" stroke="#5f4a1e" stroke-width="0.75" opacity="0.9"/><rect x="287.14" y="754.48" width="8.83" height="8.83" fill="#7c7ad0"/><path d="M291.26 757.8v2.2" stroke="#2a2a60" stroke-width="0.8" opacity="0.55"/><ellipse cx="253.68" cy="768.37" rx="1.8" ry="1.45" fill="none" stroke="#4a4a4a" stroke-width="0.9"/><rect x="277.67" y="763.95" width="8.83" height="8.83" fill="#eec968"/><path d="M280.39 768.37h3.4M282.09 766.66v3.4" stroke="#5f4a1e" stroke-width="0.75" opacity="0.9"/><rect x="287.14" y="763.95" width="8.83" height="8.83" fill="#eec968"/><path d="M289.86 768.37h3.4M291.56 766.66v3.4" stroke="#5f4a1e" stroke-width="0.75" opacity="0.9"/><ellipse cx="187.39" cy="777.84" rx="1.8" ry="1.45" fill="none" stroke="#4a4a4a" stroke-width="0.9"/><ellipse cx="234.74" cy="777.84" rx="1.8" ry="1.45" fill="none" stroke="#4a4a4a" stroke-width="0.9"/><rect x="277.67" y="773.42" width="8.83" height="8.83" fill="#3e3aad"/><path d="M281.79 776.74v2.2" stroke="#2a2a60" stroke-width="0.8" opacity="0.55"/><rect x="182.97" y="782.89" width="8.83" height="8.83" fill="#eec968"/><path d="M185.69 787.31h3.4M187.39 785.61v3.4" stroke="#5f4a1e" stroke-width="0.75" opacity="0.9"/><rect x="277.67" y="782.89" width="8.83" height="8.83" fill="#f2db98"/><path d="M280.39 787.31h3.4M282.09 785.61v3.4" stroke="#5f4a1e" stroke-width="0.75" opacity="0.9"/><rect x="230.32" y="792.36" width="8.83" height="8.83" fill="#eec968"/><path d="M233.04 796.78h3.4M234.74 795.08v3.4" stroke="#5f4a1e" stroke-width="0.75" opacity="0.9"/><rect x="249.26" y="792.36" width="8.83" height="8.83" fill="#3e3aad"/><path d="M253.38 795.68v2.2" stroke="#2a2a60" stroke-width="0.8" opacity="0.55"/><rect x="277.67" y="792.36" width="8.83" height="8.83" fill="#3e3aad"/><path d="M281.79 795.68v2.2" stroke="#2a2a60" stroke-width="0.8" opacity="0.55"/><rect x="287.14" y="792.36" width="8.83" height="8.83" fill="#5c58c0"/><path d="M291.26 795.68v2.2" stroke="#2a2a60" stroke-width="0.8" opacity="0.55"/><rect x="249.26" y="801.83" width="8.83" height="8.83" fill="#7c7ad0"/><path d="M253.38 805.14v2.2" stroke="#2a2a60" stroke-width="0.8" opacity="0.55"/><rect x="249.26" y="811.3" width="8.83" height="8.83" fill="#eec968"/><path d="M251.98 815.72h3.4M253.68 814.01v3.4" stroke="#5f4a1e" stroke-width="0.75" opacity="0.9"/><rect x="277.67" y="811.3" width="8.83" height="8.83" fill="#f0d280"/><path d="M280.39 815.72h3.4M282.09 814.01v3.4" stroke="#5f4a1e" stroke-width="0.75" opacity="0.9"/><rect x="182.97" y="820.77" width="8.83" height="8.83" fill="#eec968"/><path d="M185.69 825.19h3.4M187.39 823.49v3.4" stroke="#5f4a1e" stroke-width="0.75" opacity="0.9"/><rect x="277.67" y="820.77" width="8.83" height="8.83" fill="#f0d280"/><path d="M280.39 825.19h3.4M282.09 823.49v3.4" stroke="#5f4a1e" stroke-width="0.75" opacity="0.9"/><rect x="249.26" y="830.24" width="8.83" height="8.83" fill="#a5a3e0"/><path d="M253.38 833.56v2.2" stroke="#2a2a60" stroke-width="0.8" opacity="0.55"/><rect x="277.67" y="830.24" width="8.83" height="8.83" fill="#a5a3e0"/><path d="M281.79 833.56v2.2" stroke="#2a2a60" stroke-width="0.8" opacity="0.55"/><rect x="287.14" y="830.24" width="8.83" height="8.83" fill="#4945b5"/><path d="M291.26 833.56v2.2" stroke="#2a2a60" stroke-width="0.8" opacity="0.55"/><ellipse cx="177.92" cy="844.12" rx="1.8" ry="1.45" fill="none" stroke="#4a4a4a" stroke-width="0.9"/><ellipse cx="187.39" cy="844.12" rx="1.8" ry="1.45" fill="none" stroke="#4a4a4a" stroke-width="0.9"/><rect x="192.44" y="839.71" width="8.83" height="8.83" fill="#eec968"/><path d="M195.16 844.12h3.4M196.86 842.42v3.4" stroke="#5f4a1e" stroke-width="0.75" opacity="0.9"/><rect x="211.38" y="839.71" width="8.83" height="8.83" fill="#7c7ad0"/><path d="M215.5 843.02v2.2" stroke="#2a2a60" stroke-width="0.8" opacity="0.55"/><rect x="258.73" y="839.71" width="8.83" height="8.83" fill="#eec968"/><path d="M261.45 844.12h3.4M263.15 842.42v3.4" stroke="#5f4a1e" stroke-width="0.75" opacity="0.9"/><ellipse cx="168.45" cy="853.6" rx="1.8" ry="1.45" fill="none" stroke="#4a4a4a" stroke-width="0.9"/><ellipse cx="177.92" cy="853.6" rx="1.8" ry="1.45" fill="none" stroke="#4a4a4a" stroke-width="0.9"/><ellipse cx="187.39" cy="853.6" rx="1.8" ry="1.45" fill="none" stroke="#4a4a4a" stroke-width="0.9"/><rect x="211.38" y="849.18" width="8.83" height="8.83" fill="#7c7ad0"/><path d="M215.5 852.5v2.2" stroke="#2a2a60" stroke-width="0.8" opacity="0.55"/><rect x="154.56" y="858.65" width="8.83" height="8.83" fill="#eec968"/><path d="M157.28 863.07h3.4M158.98 861.37v3.4" stroke="#5f4a1e" stroke-width="0.75" opacity="0.9"/><rect x="154.56" y="868.12" width="8.83" height="8.83" fill="#7c7ad0"/><path d="M158.68 871.44v2.2" stroke="#2a2a60" stroke-width="0.8" opacity="0.55"/><ellipse cx="168.45" cy="872.54" rx="1.8" ry="1.45" fill="none" stroke="#4a4a4a" stroke-width="0.9"/><rect x="192.44" y="868.12" width="8.83" height="8.83" fill="#eec968"/><path d="M195.16 872.54h3.4M196.86 870.84v3.4" stroke="#5f4a1e" stroke-width="0.75" opacity="0.9"/><rect x="306.08" y="868.12" width="8.83" height="8.83" fill="#f2db98"/><path d="M308.8 872.54h3.4M310.5 870.84v3.4" stroke="#5f4a1e" stroke-width="0.75" opacity="0.9"/><ellipse cx="234.74" cy="882.01" rx="1.8" ry="1.45" fill="none" stroke="#4a4a4a" stroke-width="0.9"/><rect x="306.08" y="887.06" width="8.83" height="8.83" fill="#c0bee9"/><path d="M310.19 890.38v2.2" stroke="#2a2a60" stroke-width="0.8" opacity="0.55"/><ellipse cx="177.92" cy="900.95" rx="1.8" ry="1.45" fill="none" stroke="#4a4a4a" stroke-width="0.9"/><ellipse cx="158.98" cy="910.42" rx="1.8" ry="1.45" fill="none" stroke="#4a4a4a" stroke-width="0.9"/><ellipse cx="187.39" cy="919.89" rx="1.8" ry="1.45" fill="none" stroke="#4a4a4a" stroke-width="0.9"/><ellipse cx="234.74" cy="929.36" rx="1.8" ry="1.45" fill="none" stroke="#4a4a4a" stroke-width="0.9"/><ellipse cx="168.45" cy="938.83" rx="1.8" ry="1.45" fill="none" stroke="#4a4a4a" stroke-width="0.9"/><rect x="268.2" y="943.88" width="8.83" height="8.83" fill="#6562c4"/><path d="M272.31 947.2v2.2" stroke="#2a2a60" stroke-width="0.8" opacity="0.55"/><ellipse cx="177.92" cy="957.77" rx="1.8" ry="1.45" fill="none" stroke="#4a4a4a" stroke-width="0.9"/><ellipse cx="168.45" cy="967.24" rx="1.8" ry="1.45" fill="none" stroke="#4a4a4a" stroke-width="0.9"/><ellipse cx="168.45" cy="976.71" rx="1.8" ry="1.45" fill="none" stroke="#4a4a4a" stroke-width="0.9"/><rect x="173.5" y="972.29" width="8.83" height="8.83" fill="#a5a3e0"/><path d="M177.62 975.61v2.2" stroke="#2a2a60" stroke-width="0.8" opacity="0.55"/><rect x="154.56" y="981.76" width="8.83" height="8.83" fill="#7c7ad0"/><path d="M158.68 985.08v2.2" stroke="#2a2a60" stroke-width="0.8" opacity="0.55"/><ellipse cx="168.45" cy="995.65" rx="1.8" ry="1.45" fill="none" stroke="#4a4a4a" stroke-width="0.9"/><rect x="173.5" y="991.23" width="8.83" height="8.83" fill="#dadaf2"/><path d="M177.62 994.55v2.2" stroke="#2a2a60" stroke-width="0.8" opacity="0.55"/><ellipse cx="168.45" cy="1005.12" rx="1.8" ry="1.45" fill="none" stroke="#4a4a4a" stroke-width="0.9"/><ellipse cx="168.45" cy="1014.59" rx="1.8" ry="1.45" fill="none" stroke="#4a4a4a" stroke-width="0.9"/><ellipse cx="168.45" cy="1024.06" rx="1.8" ry="1.45" fill="none" stroke="#4a4a4a" stroke-width="0.9"/><rect x="287.14" y="1029.11" width="8.83" height="8.83" fill="#7c7ad0"/><path d="M291.26 1032.43v2.2" stroke="#2a2a60" stroke-width="0.8" opacity="0.55"/><rect x="268.2" y="1038.58" width="8.83" height="8.83" fill="#7c7ad0"/><path d="M272.31 1041.9v2.2" stroke="#2a2a60" stroke-width="0.8" opacity="0.55"/><rect x="287.14" y="1048.05" width="8.83" height="8.83" fill="#a5a3e0"/><path d="M291.26 1051.37v2.2" stroke="#2a2a60" stroke-width="0.8" opacity="0.55"/><rect x="287.14" y="1057.52" width="8.83" height="8.83" fill="#4e4ab9"/><path d="M291.26 1060.84v2.2" stroke="#2a2a60" stroke-width="0.8" opacity="0.55"/><rect x="306.08" y="1066.99" width="8.83" height="8.83" fill="#6562c4"/><path d="M310.19 1070.31v2.2" stroke="#2a2a60" stroke-width="0.8" opacity="0.55"/><rect x="287.14" y="1076.46" width="8.83" height="8.83" fill="#a5a3e0"/><path d="M291.26 1079.78v2.2" stroke="#2a2a60" stroke-width="0.8" opacity="0.55"/><rect x="287.14" y="1085.93" width="8.83" height="8.83" fill="#7c7ad0"/><path d="M291.26 1089.25v2.2" stroke="#2a2a60" stroke-width="0.8" opacity="0.55"/><rect x="287.14" y="1095.4" width="8.83" height="8.83" fill="#6562c4"/><path d="M291.26 1098.72v2.2" stroke="#2a2a60" stroke-width="0.8" opacity="0.55"/><rect x="145.09" y="1104.87" width="8.83" height="8.83" fill="#eec968"/><path d="M147.81 1109.29h3.4M149.51 1107.59v3.4" stroke="#5f4a1e" stroke-width="0.75" opacity="0.9"/><ellipse cx="168.45" cy="1109.29" rx="1.8" ry="1.45" fill="none" stroke="#4a4a4a" stroke-width="0.9"/><rect x="173.5" y="1104.87" width="8.83" height="8.83" fill="#f2db98"/><path d="M176.22 1109.29h3.4M177.92 1107.59v3.4" stroke="#5f4a1e" stroke-width="0.75" opacity="0.9"/><path d="M185.69 1109.29h3.4M187.39 1107.59v3.4" stroke="#555" stroke-width="0.75" opacity="0.85"/><rect x="192.44" y="1104.87" width="8.83" height="8.83" fill="#eec968"/><path d="M195.16 1109.29h3.4M196.86 1107.59v3.4" stroke="#5f4a1e" stroke-width="0.75" opacity="0.9"/><rect x="211.38" y="1104.87" width="8.83" height="8.83" fill="#4945b5"/><path d="M215.5 1108.19v2.2" stroke="#2a2a60" stroke-width="0.8" opacity="0.55"/><rect x="220.85" y="1104.87" width="8.83" height="8.83" fill="#f2db98"/><path d="M223.57 1109.29h3.4M225.27 1107.59v3.4" stroke="#5f4a1e" stroke-width="0.75" opacity="0.9"/><rect x="230.32" y="1104.87" width="8.83" height="8.83" fill="#eec968"/><path d="M233.04 1109.29h3.4M234.74 1107.59v3.4" stroke="#5f4a1e" stroke-width="0.75" opacity="0.9"/><rect x="249.26" y="1104.87" width="8.83" height="8.83" fill="#eec968"/><path d="M251.98 1109.29h3.4M253.68 1107.59v3.4" stroke="#5f4a1e" stroke-width="0.75" opacity="0.9"/><rect x="258.73" y="1104.87" width="8.83" height="8.83" fill="#eec968"/><path d="M261.45 1109.29h3.4M263.15 1107.59v3.4" stroke="#5f4a1e" stroke-width="0.75" opacity="0.9"/><rect x="268.2" y="1104.87" width="8.83" height="8.83" fill="#7c7ad0"/><path d="M272.31 1108.19v2.2" stroke="#2a2a60" stroke-width="0.8" opacity="0.55"/><rect x="277.67" y="1104.87" width="8.83" height="8.83" fill="#4e4ab9"/><path d="M281.79 1108.19v2.2" stroke="#2a2a60" stroke-width="0.8" opacity="0.55"/><rect x="287.14" y="1104.87" width="8.83" height="8.83" fill="#6562c4"/><path d="M291.26 1108.19v2.2" stroke="#2a2a60" stroke-width="0.8" opacity="0.55"/><rect x="296.61" y="1104.87" width="8.83" height="8.83" fill="#3430a5"/><path d="M300.73 1108.19v2.2" stroke="#2a2a60" stroke-width="0.8" opacity="0.55"/><rect x="306.08" y="1104.87" width="8.83" height="8.83" fill="#eec968"/><path d="M308.8 1109.29h3.4M310.5 1107.59v3.4" stroke="#5f4a1e" stroke-width="0.75" opacity="0.9"/><rect x="315.55" y="1104.87" width="8.83" height="8.83" fill="#4e4ab9"/><path d="M319.67 1108.19v2.2" stroke="#2a2a60" stroke-width="0.8" opacity="0.55"/><path d="M395 11.2V1112.04M404.5 11.2V1112.04M414 11.2V1112.04M423.5 11.2V1112.04M433 11.2V1112.04M442.5 11.2V1112.04M452 11.2V1112.04M461.5 11.2V1112.04M471 11.2V1112.04M480.5 11.2V1112.04M490 11.2V1112.04M499.5 11.2V1112.04M509 11.2V1112.04M518.5 11.2V1112.04M528 11.2V1112.04M537.5 11.2V1112.04M547 11.2V1112.04M556.5 11.2V1112.04M566 11.2V1112.04M575.5 11.2V1112.04M585 11.2V1112.04M395 11.2H585M395 20.69H585M395 30.18H585M395 39.67H585M395 49.16H585M395 58.65H585M395 68.14H585M395 77.63H585M395 87.12H585M395 96.61H585M395 106.1H585M395 115.59H585M395 125.08H585M395 134.57H585M395 144.06H585M395 153.55H585M395 163.04H585M395 172.53H585M395 182.02H585M395 191.51H585M395 201H585M395 210.49H585M395 219.98H585M395 229.47H585M395 238.96H585M395 248.45H585M395 257.94H585M395 267.43H585M395 276.92H585M395 286.41H585M395 295.9H585M395 305.39H585M395 314.88H585M395 324.37H585M395 333.86H585M395 343.35H585M395 352.84H585M395 362.33H585M395 371.82H585M395 381.31H585M395 390.8H585M395 400.29H585M395 409.78H585M395 419.27H585M395 428.76H585M395 438.25H585M395 447.74H585M395 457.23H585M395 466.72H585M395 476.21H585M395 485.7H585M395 495.19H585M395 504.68H585M395 514.17H585M395 523.66H585M395 533.15H585M395 542.64H585M395 552.13H585M395 561.62H585M395 571.11H585M395 580.6H585M395 590.09H585M395 599.58H585M395 609.07H585M395 618.56H585M395 628.05H585M395 637.54H585M395 647.03H585M395 656.52H585M395 666.01H585M395 675.5H585M395 684.99H585M395 694.48H585M395 703.97H585M395 713.46H585M395 722.95H585M395 732.44H585M395 741.93H585M395 751.42H585M395 760.91H585M395 770.4H585M395 779.89H585M395 789.38H585M395 798.87H585M395 808.36H585M395 817.85H585M395 827.34H585M395 836.83H585M395 846.32H585M395 855.81H585M395 865.3H585M395 874.79H585M395 884.28H585M395 893.77H585M395 903.26H585M395 912.75H585M395 922.24H585M395 931.73H585M395 941.22H585M395 950.71H585M395 960.2H585M395 969.69H585M395 979.18H585M395 988.67H585M395 998.16H585M395 1007.65H585M395 1017.14H585M395 1026.63H585M395 1036.12H585M395 1045.61H585M395 1055.1H585M395 1064.59H585M395 1074.08H585M395 1083.57H585M395 1093.06H585M395 1102.55H585M395 1112.04H585" stroke="#f0f0f0" stroke-width="0.6" fill="none"/><rect x="404.82" y="11.52" width="8.86" height="8.85" fill="#7c72fa"/><rect x="547.32" y="11.52" width="8.86" height="8.85" fill="#220cec"/><rect x="404.82" y="21.01" width="8.86" height="8.85" fill="#5646f7"/><rect x="547.32" y="21.01" width="8.86" height="8.85" fill="#7c72fa"/><rect x="556.82" y="21.01" width="8.86" height="8.85" fill="#7c72fa"/><rect x="461.82" y="30.5" width="8.86" height="8.85" fill="#220cec"/><rect x="499.82" y="30.5" width="8.86" height="8.85" fill="#3c29f2"/><rect x="528.32" y="30.5" width="8.86" height="8.85" fill="#5646f7"/><rect x="528.32" y="39.99" width="8.86" height="8.85" fill="#5646f7"/><rect x="575.82" y="39.99" width="8.86" height="8.85" fill="#938cfc"/><rect x="575.82" y="49.48" width="8.86" height="8.85" fill="#aaa6fd"/><rect x="528.32" y="58.97" width="8.86" height="8.85" fill="#5646f7"/><rect x="575.82" y="58.97" width="8.86" height="8.85" fill="#c8c6fe"/><rect x="480.82" y="68.46" width="8.86" height="8.85" fill="#220cec"/><rect x="528.32" y="68.46" width="8.86" height="8.85" fill="#7c72fa"/><rect x="480.82" y="77.95" width="8.86" height="8.85" fill="#7c72fa"/><rect x="480.82" y="87.44" width="8.86" height="8.85" fill="#220cec"/><rect x="509.32" y="96.93" width="8.86" height="8.85" fill="#7c72fa"/><rect x="395.32" y="106.42" width="8.86" height="8.85" fill="#5646f7"/><rect x="537.82" y="106.42" width="8.86" height="8.85" fill="#7c72fa"/><rect x="395.32" y="115.91" width="8.86" height="8.85" fill="#6153f8"/><rect x="452.32" y="115.91" width="8.86" height="8.85" fill="#1906e4"/><rect x="490.32" y="115.91" width="8.86" height="8.85" fill="#7c72fa"/><rect x="395.32" y="125.4" width="8.86" height="8.85" fill="#220cec"/><rect x="452.32" y="125.4" width="8.86" height="8.85" fill="#3c29f2"/><rect x="537.82" y="125.4" width="8.86" height="8.85" fill="#7c72fa"/><rect x="509.32" y="134.89" width="8.86" height="8.85" fill="#695cf8"/><rect x="566.32" y="144.38" width="8.86" height="8.85" fill="#695cf8"/><rect x="566.32" y="153.87" width="8.86" height="8.85" fill="#5646f7"/><rect x="414.32" y="163.36" width="8.86" height="8.85" fill="#5646f7"/><rect x="480.82" y="163.36" width="8.86" height="8.85" fill="#aaa6fd"/><rect x="509.32" y="163.36" width="8.86" height="8.85" fill="#695cf8"/><rect x="528.32" y="163.36" width="8.86" height="8.85" fill="#695cf8"/><rect x="566.32" y="163.36" width="8.86" height="8.85" fill="#5646f7"/><rect x="404.82" y="172.85" width="8.86" height="8.85" fill="#c8c6fe"/><rect x="442.82" y="172.85" width="8.86" height="8.85" fill="#7c72fa"/><rect x="547.32" y="172.85" width="8.86" height="8.85" fill="#7c72fa"/><rect x="566.32" y="172.85" width="8.86" height="8.85" fill="#7c72fa"/><rect x="404.82" y="182.34" width="8.86" height="8.85" fill="#938cfc"/><rect x="547.32" y="182.34" width="8.86" height="8.85" fill="#aaa6fd"/><rect x="566.32" y="182.34" width="8.86" height="8.85" fill="#aaa6fd"/><rect x="404.82" y="191.83" width="8.86" height="8.85" fill="#7c72fa"/><rect x="433.32" y="191.83" width="8.86" height="8.85" fill="#aaa6fd"/><rect x="547.32" y="191.83" width="8.86" height="8.85" fill="#7c72fa"/><rect x="423.82" y="201.32" width="8.86" height="8.85" fill="#5646f7"/><rect x="433.32" y="201.32" width="8.86" height="8.85" fill="#5646f7"/><rect x="566.32" y="201.32" width="8.86" height="8.85" fill="#5646f7"/><rect x="575.82" y="201.32" width="8.86" height="8.85" fill="#7c72fa"/><rect x="575.82" y="210.81" width="8.86" height="8.85" fill="#5646f7"/><rect x="414.32" y="220.3" width="8.86" height="8.85" fill="#5646f7"/><rect x="566.32" y="229.79" width="8.86" height="8.85" fill="#7c72fa"/><rect x="423.82" y="239.28" width="8.86" height="8.85" fill="#695cf8"/><rect x="433.32" y="239.28" width="8.86" height="8.85" fill="#695cf8"/><rect x="442.82" y="239.28" width="8.86" height="8.85" fill="#5646f7"/><rect x="452.32" y="239.28" width="8.86" height="8.85" fill="#7c72fa"/><rect x="471.32" y="239.28" width="8.86" height="8.85" fill="#695cf8"/><rect x="480.82" y="239.28" width="8.86" height="8.85" fill="#695cf8"/><rect x="490.32" y="239.28" width="8.86" height="8.85" fill="#5646f7"/><rect x="509.32" y="239.28" width="8.86" height="8.85" fill="#695cf8"/><rect x="518.82" y="239.28" width="8.86" height="8.85" fill="#7c72fa"/><rect x="528.32" y="239.28" width="8.86" height="8.85" fill="#3c29f2"/><rect x="547.32" y="239.28" width="8.86" height="8.85" fill="#3c29f2"/><rect x="556.82" y="239.28" width="8.86" height="8.85" fill="#3c29f2"/><rect x="575.82" y="239.28" width="8.86" height="8.85" fill="#695cf8"/><rect x="509.32" y="248.77" width="8.86" height="8.85" fill="#7c72fa"/><rect x="547.32" y="248.77" width="8.86" height="8.85" fill="#aaa6fd"/><rect x="566.32" y="258.26" width="8.86" height="8.85" fill="#695cf8"/><rect x="566.32" y="267.75" width="8.86" height="8.85" fill="#220cec"/><rect x="566.32" y="277.24" width="8.86" height="8.85" fill="#7c72fa"/><rect x="528.32" y="286.73" width="8.86" height="8.85" fill="#7c72fa"/><rect x="566.32" y="286.73" width="8.86" height="8.85" fill="#695cf8"/><rect x="528.32" y="296.22" width="8.86" height="8.85" fill="#7c72fa"/><rect x="556.82" y="296.22" width="8.86" height="8.85" fill="#5646f7"/><rect x="461.82" y="305.71" width="8.86" height="8.85" fill="#c8c6fe"/><rect x="528.32" y="305.71" width="8.86" height="8.85" fill="#7c72fa"/><rect x="433.32" y="315.2" width="8.86" height="8.85" fill="#695cf8"/><rect x="442.82" y="315.2" width="8.86" height="8.85" fill="#7c72fa"/><rect x="452.32" y="315.2" width="8.86" height="8.85" fill="#938cfc"/><rect x="471.32" y="315.2" width="8.86" height="8.85" fill="#695cf8"/><rect x="518.82" y="315.2" width="8.86" height="8.85" fill="#7c72fa"/><rect x="556.82" y="315.2" width="8.86" height="8.85" fill="#7c72fa"/><rect x="423.82" y="324.69" width="8.86" height="8.85" fill="#3c29f2"/><rect x="509.32" y="334.18" width="8.86" height="8.85" fill="#695cf8"/><rect x="528.32" y="343.67" width="8.86" height="8.85" fill="#695cf8"/><rect x="414.32" y="353.16" width="8.86" height="8.85" fill="#695cf8"/><rect x="566.32" y="362.65" width="8.86" height="8.85" fill="#5646f7"/><rect x="509.32" y="372.14" width="8.86" height="8.85" fill="#7c72fa"/><rect x="414.32" y="381.63" width="8.86" height="8.85" fill="#695cf8"/><rect x="528.32" y="381.63" width="8.86" height="8.85" fill="#7c72fa"/><rect x="566.32" y="381.63" width="8.86" height="8.85" fill="#7c72fa"/><rect x="442.82" y="391.12" width="8.86" height="8.85" fill="#3c29f2"/><rect x="414.32" y="400.61" width="8.86" height="8.85" fill="#7c72fa"/><rect x="528.32" y="400.61" width="8.86" height="8.85" fill="#5646f7"/><rect x="423.82" y="410.1" width="8.86" height="8.85" fill="#695cf8"/><rect x="433.32" y="410.1" width="8.86" height="8.85" fill="#695cf8"/><rect x="566.32" y="410.1" width="8.86" height="8.85" fill="#5646f7"/><rect x="575.82" y="410.1" width="8.86" height="8.85" fill="#938cfc"/><rect x="480.82" y="419.59" width="8.86" height="8.85" fill="#e6e6fe"/><rect x="528.32" y="419.59" width="8.86" height="8.85" fill="#3c29f2"/><rect x="471.32" y="429.08" width="8.86" height="8.85" fill="#5646f7"/><rect x="509.32" y="429.08" width="8.86" height="8.85" fill="#938cfc"/><rect x="518.82" y="429.08" width="8.86" height="8.85" fill="#7c72fa"/><rect x="547.32" y="429.08" width="8.86" height="8.85" fill="#5646f7"/><rect x="556.82" y="429.08" width="8.86" height="8.85" fill="#5646f7"/><rect x="547.32" y="438.57" width="8.86" height="8.85" fill="#1906e4"/><rect x="556.82" y="438.57" width="8.86" height="8.85" fill="#1906e4"/><rect x="566.32" y="448.06" width="8.86" height="8.85" fill="#7c72fa"/><rect x="480.82" y="457.55" width="8.86" height="8.85" fill="#220cec"/><rect x="528.32" y="457.55" width="8.86" height="8.85" fill="#5646f7"/><rect x="556.82" y="457.55" width="8.86" height="8.85" fill="#7c72fa"/><rect x="480.82" y="467.04" width="8.86" height="8.85" fill="#7c72fa"/><rect x="528.32" y="467.04" width="8.86" height="8.85" fill="#5646f7"/><rect x="461.82" y="476.53" width="8.86" height="8.85" fill="#5646f7"/><rect x="499.82" y="476.53" width="8.86" height="8.85" fill="#7c72fa"/><rect x="528.32" y="476.53" width="8.86" height="8.85" fill="#7c72fa"/><rect x="423.82" y="486.02" width="8.86" height="8.85" fill="#aaa6fd"/><rect x="433.32" y="486.02" width="8.86" height="8.85" fill="#695cf8"/><rect x="528.32" y="495.51" width="8.86" height="8.85" fill="#7c72fa"/><rect x="414.32" y="505" width="8.86" height="8.85" fill="#7c72fa"/><rect x="509.32" y="514.49" width="8.86" height="8.85" fill="#7c72fa"/><rect x="528.32" y="523.98" width="8.86" height="8.85" fill="#5646f7"/><rect x="566.32" y="523.98" width="8.86" height="8.85" fill="#5646f7"/><rect x="414.32" y="533.47" width="8.86" height="8.85" fill="#7c72fa"/><rect x="566.32" y="533.47" width="8.86" height="8.85" fill="#5646f7"/><rect x="509.32" y="542.96" width="8.86" height="8.85" fill="#7c72fa"/><rect x="414.32" y="552.45" width="8.86" height="8.85" fill="#5646f7"/><rect x="490.32" y="561.94" width="8.86" height="8.85" fill="#220cec"/><rect x="509.32" y="561.94" width="8.86" height="8.85" fill="#220cec"/><rect x="537.82" y="561.94" width="8.86" height="8.85" fill="#938cfc"/><rect x="547.32" y="561.94" width="8.86" height="8.85" fill="#695cf8"/><rect x="404.82" y="571.43" width="8.86" height="8.85" fill="#5646f7"/><rect x="490.32" y="571.43" width="8.86" height="8.85" fill="#5646f7"/><rect x="509.32" y="571.43" width="8.86" height="8.85" fill="#5646f7"/><rect x="547.32" y="571.43" width="8.86" height="8.85" fill="#220cec"/><rect x="404.82" y="580.92" width="8.86" height="8.85" fill="#220cec"/><rect x="547.32" y="580.92" width="8.86" height="8.85" fill="#7c72fa"/><rect x="433.32" y="590.41" width="8.86" height="8.85" fill="#7c72fa"/><rect x="442.82" y="590.41" width="8.86" height="8.85" fill="#7c72fa"/><rect x="452.32" y="590.41" width="8.86" height="8.85" fill="#7c72fa"/><rect x="471.32" y="590.41" width="8.86" height="8.85" fill="#7c72fa"/><rect x="480.82" y="590.41" width="8.86" height="8.85" fill="#7c72fa"/><rect x="490.32" y="590.41" width="8.86" height="8.85" fill="#938cfc"/><rect x="509.32" y="590.41" width="8.86" height="8.85" fill="#695cf8"/><rect x="518.82" y="590.41" width="8.86" height="8.85" fill="#7c72fa"/><rect x="566.32" y="590.41" width="8.86" height="8.85" fill="#c8c6fe"/><rect x="433.32" y="599.9" width="8.86" height="8.85" fill="#c8c6fe"/><rect x="461.82" y="599.9" width="8.86" height="8.85" fill="#5646f7"/><rect x="499.82" y="599.9" width="8.86" height="8.85" fill="#220cec"/><rect x="528.32" y="599.9" width="8.86" height="8.85" fill="#7c72fa"/><rect x="566.32" y="599.9" width="8.86" height="8.85" fill="#5646f7"/><rect x="575.82" y="599.9" width="8.86" height="8.85" fill="#938cfc"/><rect x="414.32" y="609.39" width="8.86" height="8.85" fill="#5646f7"/><rect x="423.82" y="618.88" width="8.86" height="8.85" fill="#7c72fa"/><rect x="575.82" y="618.88" width="8.86" height="8.85" fill="#3c29f2"/><rect x="518.82" y="628.37" width="8.86" height="8.85" fill="#5646f7"/><rect x="509.32" y="637.86" width="8.86" height="8.85" fill="#5646f7"/><rect x="518.82" y="637.86" width="8.86" height="8.85" fill="#220cec"/><rect x="433.32" y="647.35" width="8.86" height="8.85" fill="#220cec"/><rect x="471.32" y="647.35" width="8.86" height="8.85" fill="#220cec"/><rect x="556.82" y="647.35" width="8.86" height="8.85" fill="#7c72fa"/><rect x="518.82" y="656.84" width="8.86" height="8.85" fill="#7c72fa"/><rect x="556.82" y="656.84" width="8.86" height="8.85" fill="#5646f7"/><rect x="509.32" y="666.33" width="8.86" height="8.85" fill="#aaa6fd"/><rect x="509.32" y="675.82" width="8.86" height="8.85" fill="#7c72fa"/><rect x="518.82" y="675.82" width="8.86" height="8.85" fill="#220cec"/><rect x="556.82" y="675.82" width="8.86" height="8.85" fill="#7c72fa"/><rect x="509.32" y="685.31" width="8.86" height="8.85" fill="#938cfc"/><rect x="518.82" y="685.31" width="8.86" height="8.85" fill="#938cfc"/><rect x="556.82" y="685.31" width="8.86" height="8.85" fill="#938cfc"/><rect x="395.32" y="694.8" width="8.86" height="8.85" fill="#5646f7"/><rect x="423.82" y="694.8" width="8.86" height="8.85" fill="#220cec"/><rect x="518.82" y="694.8" width="8.86" height="8.85" fill="#5646f7"/><rect x="537.82" y="694.8" width="8.86" height="8.85" fill="#5646f7"/><rect x="556.82" y="694.8" width="8.86" height="8.85" fill="#5646f7"/><rect x="509.32" y="704.29" width="8.86" height="8.85" fill="#5646f7"/><rect x="442.82" y="713.78" width="8.86" height="8.85" fill="#5646f7"/><rect x="537.82" y="713.78" width="8.86" height="8.85" fill="#7c72fa"/><rect x="433.32" y="723.27" width="8.86" height="8.85" fill="#220cec"/><rect x="471.32" y="723.27" width="8.86" height="8.85" fill="#938cfc"/><rect x="423.82" y="732.76" width="8.86" height="8.85" fill="#7c72fa"/><rect x="442.82" y="732.76" width="8.86" height="8.85" fill="#7c72fa"/><rect x="547.32" y="742.25" width="8.86" height="8.85" fill="#5646f7"/><rect x="442.82" y="751.74" width="8.86" height="8.85" fill="#aaa6fd"/><rect x="490.32" y="751.74" width="8.86" height="8.85" fill="#7c72fa"/><rect x="537.82" y="751.74" width="8.86" height="8.85" fill="#5646f7"/><rect x="547.32" y="751.74" width="8.86" height="8.85" fill="#7c72fa"/><rect x="509.32" y="761.23" width="8.86" height="8.85" fill="#938cfc"/><rect x="537.82" y="761.23" width="8.86" height="8.85" fill="#695cf8"/><rect x="547.32" y="761.23" width="8.86" height="8.85" fill="#695cf8"/><rect x="442.82" y="770.72" width="8.86" height="8.85" fill="#7c72fa"/><rect x="490.32" y="770.72" width="8.86" height="8.85" fill="#7c72fa"/><rect x="537.82" y="770.72" width="8.86" height="8.85" fill="#220cec"/><rect x="442.82" y="780.21" width="8.86" height="8.85" fill="#220cec"/><rect x="537.82" y="780.21" width="8.86" height="8.85" fill="#7c72fa"/><rect x="490.32" y="789.7" width="8.86" height="8.85" fill="#5646f7"/><rect x="509.32" y="789.7" width="8.86" height="8.85" fill="#220cec"/><rect x="537.82" y="789.7" width="8.86" height="8.85" fill="#220cec"/><rect x="547.32" y="789.7" width="8.86" height="8.85" fill="#695cf8"/><rect x="509.32" y="799.19" width="8.86" height="8.85" fill="#695cf8"/><rect x="509.32" y="808.68" width="8.86" height="8.85" fill="#220cec"/><rect x="537.82" y="808.68" width="8.86" height="8.85" fill="#5646f7"/><rect x="442.82" y="818.17" width="8.86" height="8.85" fill="#5646f7"/><rect x="537.82" y="818.17" width="8.86" height="8.85" fill="#695cf8"/><rect x="537.82" y="827.66" width="8.86" height="8.85" fill="#695cf8"/><rect x="547.32" y="827.66" width="8.86" height="8.85" fill="#5646f7"/><rect x="433.32" y="837.15" width="8.86" height="8.85" fill="#938cfc"/><rect x="442.82" y="837.15" width="8.86" height="8.85" fill="#938cfc"/><rect x="452.32" y="837.15" width="8.86" height="8.85" fill="#7c72fa"/><rect x="471.32" y="837.15" width="8.86" height="8.85" fill="#938cfc"/><rect x="518.82" y="837.15" width="8.86" height="8.85" fill="#5646f7"/><rect x="423.82" y="846.64" width="8.86" height="8.85" fill="#5646f7"/><rect x="433.32" y="846.64" width="8.86" height="8.85" fill="#7c72fa"/><rect x="442.82" y="846.64" width="8.86" height="8.85" fill="#938cfc"/><rect x="471.32" y="846.64" width="8.86" height="8.85" fill="#5646f7"/><rect x="414.32" y="856.13" width="8.86" height="8.85" fill="#220cec"/><rect x="414.32" y="865.62" width="8.86" height="8.85" fill="#938cfc"/><rect x="423.82" y="865.62" width="8.86" height="8.85" fill="#7c72fa"/><rect x="452.32" y="865.62" width="8.86" height="8.85" fill="#5646f7"/><rect x="566.32" y="865.62" width="8.86" height="8.85" fill="#938cfc"/><rect x="490.32" y="875.11" width="8.86" height="8.85" fill="#7c72fa"/><rect x="566.32" y="884.6" width="8.86" height="8.85" fill="#695cf8"/><rect x="433.32" y="894.09" width="8.86" height="8.85" fill="#b6b3fd"/><rect x="414.32" y="903.58" width="8.86" height="8.85" fill="#938cfc"/><rect x="442.82" y="913.07" width="8.86" height="8.85" fill="#695cf8"/><rect x="490.32" y="922.56" width="8.86" height="8.85" fill="#aaa6fd"/><rect x="423.82" y="932.05" width="8.86" height="8.85" fill="#aaa6fd"/><rect x="528.32" y="941.54" width="8.86" height="8.85" fill="#7c72fa"/><rect x="433.32" y="951.03" width="8.86" height="8.85" fill="#aaa6fd"/><rect x="423.82" y="960.52" width="8.86" height="8.85" fill="#aaa6fd"/><rect x="423.82" y="970.01" width="8.86" height="8.85" fill="#7c72fa"/><rect x="433.32" y="970.01" width="8.86" height="8.85" fill="#7c72fa"/><rect x="414.32" y="979.5" width="8.86" height="8.85" fill="#938cfc"/><rect x="423.82" y="988.99" width="8.86" height="8.85" fill="#5646f7"/><rect x="433.32" y="988.99" width="8.86" height="8.85" fill="#5646f7"/><rect x="423.82" y="998.48" width="8.86" height="8.85" fill="#7c72fa"/><rect x="423.82" y="1007.97" width="8.86" height="8.85" fill="#8a82fb"/><rect x="423.82" y="1017.46" width="8.86" height="8.85" fill="#6153f8"/><rect x="404.82" y="1102.87" width="8.86" height="8.85" fill="#4c3af5"/><rect x="423.82" y="1102.87" width="8.86" height="8.85" fill="#6153f8"/><rect x="433.32" y="1102.87" width="8.86" height="8.85" fill="#6153f8"/><rect x="442.82" y="1102.87" width="8.86" height="8.85" fill="#6153f8"/><rect x="452.32" y="1102.87" width="8.86" height="8.85" fill="#5e4ff8"/><rect x="471.32" y="1102.87" width="8.86" height="8.85" fill="#695cf8"/><rect x="480.82" y="1102.87" width="8.86" height="8.85" fill="#7c72fa"/><rect x="490.32" y="1102.87" width="8.86" height="8.85" fill="#2c18ee"/><rect x="509.32" y="1102.87" width="8.86" height="8.85" fill="#5646f7"/><rect x="518.82" y="1102.87" width="8.86" height="8.85" fill="#695cf8"/><rect x="528.32" y="1102.87" width="8.86" height="8.85" fill="#7c72fa"/><rect x="537.82" y="1102.87" width="8.86" height="8.85" fill="#695cf8"/><rect x="547.32" y="1102.87" width="8.86" height="8.85" fill="#695cf8"/><rect x="556.82" y="1102.87" width="8.86" height="8.85" fill="#695cf8"/><rect x="566.32" y="1102.87" width="8.86" height="8.85" fill="#695cf8"/><rect x="575.82" y="1102.87" width="8.86" height="8.85" fill="#7c72fa"/><g font-size="8.7" fill="#1a1a1a" stroke="#1a1a1a" stroke-width="0.38" text-anchor="end"><text x="133.2" y="23.48">ACAd</text><text x="133.2" y="32.95">ACAv</text><text x="133.2" y="42.42">ACB</text><text x="133.2" y="51.9">AId</text><text x="133.2" y="61.37">AIp</text><text x="133.2" y="70.84">AIv</text><text x="133.2" y="80.31">AM</text><text x="133.2" y="89.78">AOB</text><text x="133.2" y="99.25">AON</text><text x="133.2" y="108.72">APr</text><text x="133.2" y="118.19">AUDd</text><text x="133.2" y="127.66">AUDp</text><text x="133.2" y="137.12">AUDv</text><text x="133.2" y="146.6">AV</text><text x="133.2" y="156.06">BLA</text><text x="133.2" y="165.53">BMA</text><text x="133.2" y="175.01">BST</text><text x="133.2" y="184.48">CA1</text><text x="133.2" y="193.95">CA2</text><text x="133.2" y="203.42">CA3</text><text x="133.2" y="212.89">CEA</text><text x="133.2" y="222.36">CLA</text><text x="133.2" y="231.83">CM</text><text x="133.2" y="241.3">COAp</text><text x="133.2" y="250.77">CP</text><text x="133.2" y="260.24">DG</text><text x="133.2" y="269.71">ECT</text><text x="133.2" y="279.18">ENTl</text><text x="133.2" y="288.65">ENTm</text><text x="133.2" y="298.12">EPd</text><text x="133.2" y="307.59">FRP</text><text x="133.2" y="317.06">FS</text><text x="133.2" y="326.53">GPe</text><text x="133.2" y="336">GU</text><text x="133.2" y="345.47">HATA</text><text x="133.2" y="354.94">IAD</text><text x="133.2" y="364.41">IMD</text><text x="133.2" y="373.88">LA</text><text x="133.2" y="383.35">LD</text><text x="133.2" y="392.81">LHA</text><text x="133.2" y="402.29">LP</text><text x="133.2" y="411.76">MD</text><text x="133.2" y="421.23">MEA</text><text x="133.2" y="430.7">MOB</text><text x="133.2" y="440.17">MOp</text><text x="133.2" y="449.64">MOs</text><text x="133.2" y="459.11">NLOT</text><text x="133.2" y="468.58">ORBl</text><text x="133.2" y="478.05">ORBvl</text><text x="133.2" y="487.52">OT</text><text x="133.2" y="496.99">PG</text><text x="133.2" y="506.46">PIR</text><text x="133.2" y="515.92">PR</text><text x="133.2" y="525.39">PRE</text><text x="133.2" y="534.87">PT</text><text x="133.2" y="544.34">PVT</text><text x="133.2" y="553.81">ProS</text><text x="133.2" y="563.28">RE</text><text x="133.2" y="572.75">RSPagl</text><text x="133.2" y="582.22">RSPd</text><text x="133.2" y="591.69">RSPv</text><text x="133.2" y="601.16">RT</text><text x="133.2" y="610.62">SI</text><text x="133.2" y="620.1">SMT</text><text x="133.2" y="629.57">SNr</text><text x="133.2" y="639.04">SSp.bfd</text><text x="133.2" y="648.5">SSp.ll</text><text x="133.2" y="657.98">SSp.m</text><text x="133.2" y="667.45">SSp.n</text><text x="133.2" y="676.92">SSp.tr</text><text x="133.2" y="686.38">SSp.ul</text><text x="133.2" y="695.86">SSp.un</text><text x="133.2" y="705.33">SSs</text><text x="133.2" y="714.8">SUB</text><text x="133.2" y="724.27">TEa</text><text x="133.2" y="733.74">VAL</text><text x="133.2" y="743.21">VISC</text><text x="133.2" y="752.68">VISa</text><text x="133.2" y="762.15">VISal</text><text x="133.2" y="771.62">VISam</text><text x="133.2" y="781.09">VISl</text><text x="133.2" y="790.56">VISli</text><text x="133.2" y="800.03">VISp</text><text x="133.2" y="809.5">VISpl</text><text x="133.2" y="818.97">VISpm</text><text x="133.2" y="828.44">VISpor</text><text x="133.2" y="837.91">VISrl</text><text x="133.2" y="847.38">VPL</text><text x="133.2" y="856.85">VPM</text><text x="133.2" y="866.32">Xi</text><text x="133.2" y="875.79">ZI</text><text x="133.2" y="885.26">AUDpo</text><text x="133.2" y="894.73">COAa</text><text x="133.2" y="904.2">GPi</text><text x="133.2" y="913.67">IAM</text><text x="133.2" y="923.14">LGd</text><text x="133.2" y="932.61">LGv</text><text x="133.2" y="942.08">MRN</text><text x="133.2" y="951.55">ORBm</text><text x="133.2" y="961.02">PA</text><text x="133.2" y="970.49">PF</text><text x="133.2" y="979.96">PO</text><text x="133.2" y="989.43">RH</text><text x="133.2" y="998.9">TRN</text><text x="133.2" y="1008.37">VM</text><text x="133.2" y="1017.84">VPLpc</text><text x="133.2" y="1027.31">VPMpc</text><text x="133.2" y="1036.78">DMX</text><text x="133.2" y="1046.25">LPO</text><text x="133.2" y="1055.72">MV</text><text x="133.2" y="1065.19">NTS</text><text x="133.2" y="1074.65">PERI</text><text x="133.2" y="1084.12">Pa5</text><text x="133.2" y="1093.6">SPVC</text><text x="133.2" y="1103.07">SPVI</text><text x="133.2" y="1112.54">fiber.tracts</text></g><g font-size="8.7" fill="#1a1a1a" stroke="#1a1a1a" stroke-width="0.38" text-anchor="end"><text x="393.2" y="19.2">ACAd</text><text x="393.2" y="28.68">ACAv</text><text x="393.2" y="38.17">ACB</text><text x="393.2" y="47.67">AId</text><text x="393.2" y="57.16">AIp</text><text x="393.2" y="66.64">AIv</text><text x="393.2" y="76.14">AM</text><text x="393.2" y="85.62">AOB</text><text x="393.2" y="95.12">AON</text><text x="393.2" y="104.61">APr</text><text x="393.2" y="114.09">AUDd</text><text x="393.2" y="123.59">AUDp</text><text x="393.2" y="133.07">AUDv</text><text x="393.2" y="142.56">AV</text><text x="393.2" y="152.05">BLA</text><text x="393.2" y="161.54">BMA</text><text x="393.2" y="171.03">BST</text><text x="393.2" y="180.53">CA1</text><text x="393.2" y="190.01">CA2</text><text x="393.2" y="199.5">CA3</text><text x="393.2" y="209">CEA</text><text x="393.2" y="218.48">CLA</text><text x="393.2" y="227.97">CM</text><text x="393.2" y="237.47">COAp</text><text x="393.2" y="246.95">CP</text><text x="393.2" y="256.44">DG</text><text x="393.2" y="265.94">ECT</text><text x="393.2" y="275.43">ENTl</text><text x="393.2" y="284.92">ENTm</text><text x="393.2" y="294.4">EPd</text><text x="393.2" y="303.89">FRP</text><text x="393.2" y="313.38">FS</text><text x="393.2" y="322.88">GPe</text><text x="393.2" y="332.37">GU</text><text x="393.2" y="341.86">HATA</text><text x="393.2" y="351.34">IAD</text><text x="393.2" y="360.83">IMD</text><text x="393.2" y="370.32">LA</text><text x="393.2" y="379.81">LD</text><text x="393.2" y="389.31">LHA</text><text x="393.2" y="398.8">LP</text><text x="393.2" y="408.29">MD</text><text x="393.2" y="417.77">MEA</text><text x="393.2" y="427.26">MOB</text><text x="393.2" y="436.75">MOp</text><text x="393.2" y="446.25">MOs</text><text x="393.2" y="455.74">NLOT</text><text x="393.2" y="465.23">ORBl</text><text x="393.2" y="474.71">ORBvl</text><text x="393.2" y="484.2">OT</text><text x="393.2" y="493.69">PG</text><text x="393.2" y="503.19">PIR</text><text x="393.2" y="512.67">PR</text><text x="393.2" y="522.17">PRE</text><text x="393.2" y="531.66">PT</text><text x="393.2" y="541.15">PVT</text><text x="393.2" y="550.64">ProS</text><text x="393.2" y="560.13">RE</text><text x="393.2" y="569.62">RSPagl</text><text x="393.2" y="579.11">RSPd</text><text x="393.2" y="588.6">RSPv</text><text x="393.2" y="598.09">RT</text><text x="393.2" y="607.58">SI</text><text x="393.2" y="617.07">SMT</text><text x="393.2" y="626.56">SNr</text><text x="393.2" y="636.05">SSp.bfd</text><text x="393.2" y="645.54">SSp.ll</text><text x="393.2" y="655.03">SSp.m</text><text x="393.2" y="664.52">SSp.n</text><text x="393.2" y="674.01">SSp.tr</text><text x="393.2" y="683.5">SSp.ul</text><text x="393.2" y="692.99">SSp.un</text><text x="393.2" y="702.48">SSs</text><text x="393.2" y="711.97">SUB</text><text x="393.2" y="721.46">TEa</text><text x="393.2" y="730.95">VAL</text><text x="393.2" y="740.44">VISC</text><text x="393.2" y="749.93">VISa</text><text x="393.2" y="759.42">VISal</text><text x="393.2" y="768.91">VISam</text><text x="393.2" y="778.4">VISl</text><text x="393.2" y="787.89">VISli</text><text x="393.2" y="797.38">VISp</text><text x="393.2" y="806.87">VISpl</text><text x="393.2" y="816.36">VISpm</text><text x="393.2" y="825.85">VISpor</text><text x="393.2" y="835.34">VISrl</text><text x="393.2" y="844.83">VPL</text><text x="393.2" y="854.32">VPM</text><text x="393.2" y="863.81">Xi</text><text x="393.2" y="873.3">ZI</text><text x="393.2" y="882.79">AUDpo</text><text x="393.2" y="892.28">COAa</text><text x="393.2" y="901.77">GPi</text><text x="393.2" y="911.26">IAM</text><text x="393.2" y="920.75">LGd</text><text x="393.2" y="930.24">LGv</text><text x="393.2" y="939.73">MRN</text><text x="393.2" y="949.22">ORBm</text><text x="393.2" y="958.71">PA</text><text x="393.2" y="968.2">PF</text><text x="393.2" y="977.69">PO</text><text x="393.2" y="987.18">RH</text><text x="393.2" y="996.67">TRN</text><text x="393.2" y="1006.16">VM</text><text x="393.2" y="1015.65">VPLpc</text><text x="393.2" y="1025.14">VPMpc</text><text x="393.2" y="1034.62">DMX</text><text x="393.2" y="1044.12">LPO</text><text x="393.2" y="1053.61">MV</text><text x="393.2" y="1063.1">NTS</text><text x="393.2" y="1072.59">PERI</text><text x="393.2" y="1082.08">Pa5</text><text x="393.2" y="1091.57">SPVC</text><text x="393.2" y="1101.06">SPVI</text><text x="393.2" y="1110.55">fiber.tracts</text></g><g font-size="8.7" fill="#1a1a1a" stroke="#1a1a1a" stroke-width="0.38"><text transform="translate(136.94 1117) rotate(90)">AUDv</text><text transform="translate(146.41 1117) rotate(90)">RSPv</text><text transform="translate(155.88 1117) rotate(90)">RT</text><text transform="translate(165.35 1117) rotate(90)">SSs</text><text transform="translate(174.82 1117) rotate(90)">SSp-m</text><text transform="translate(184.29 1117) rotate(90)">LP</text><text transform="translate(193.76 1117) rotate(90)">MG</text><text transform="translate(203.23 1117) rotate(90)">OT</text><text transform="translate(212.7 1117) rotate(90)">VPM</text><text transform="translate(222.17 1117) rotate(90)">AM</text><text transform="translate(231.64 1117) rotate(90)">LGd</text><text transform="translate(241.11 1117) rotate(90)">SI</text><text transform="translate(250.58 1117) rotate(90)">LD</text><text transform="translate(260.05 1117) rotate(90)">VPL</text><text transform="translate(269.51 1117) rotate(90)">CM</text><text transform="translate(278.99 1117) rotate(90)">VISp</text><text transform="translate(288.46 1117) rotate(90)">MOp</text><text transform="translate(297.93 1117) rotate(90)">MOs</text><text transform="translate(307.39 1117) rotate(90)">PVT</text><text transform="translate(316.87 1117) rotate(90)">CP</text></g><g font-size="8.7" fill="#1a1a1a" stroke="#1a1a1a" stroke-width="0.38"><text transform="translate(396.65 1114.6) rotate(90)">AUDv</text><text transform="translate(406.15 1114.6) rotate(90)">RSPv</text><text transform="translate(415.65 1114.6) rotate(90)">RT</text><text transform="translate(425.15 1114.6) rotate(90)">SSs</text><text transform="translate(434.65 1114.6) rotate(90)">SSp-m</text><text transform="translate(444.15 1114.6) rotate(90)">LP</text><text transform="translate(453.65 1114.6) rotate(90)">MG</text><text transform="translate(463.15 1114.6) rotate(90)">OT</text><text transform="translate(472.65 1114.6) rotate(90)">VPM</text><text transform="translate(482.15 1114.6) rotate(90)">AM</text><text transform="translate(491.65 1114.6) rotate(90)">LGd</text><text transform="translate(501.15 1114.6) rotate(90)">SI</text><text transform="translate(510.65 1114.6) rotate(90)">LD</text><text transform="translate(520.15 1114.6) rotate(90)">VPL</text><text transform="translate(529.65 1114.6) rotate(90)">CM</text><text transform="translate(539.15 1114.6) rotate(90)">VISp</text><text transform="translate(548.65 1114.6) rotate(90)">MOp</text><text transform="translate(558.15 1114.6) rotate(90)">MOs</text><text transform="translate(567.65 1114.6) rotate(90)">PVT</text><text transform="translate(577.15 1114.6) rotate(90)">CP</text></g><text x="207.1" y="1151.2" font-size="15.4" font-weight="bold" fill="#000" textLength="58.9" lengthAdjust="spacingAndGlyphs">Neuron</text><text x="450.8" y="1151.4" font-size="15.4" font-weight="bold" fill="#000" textLength="58.4" lengthAdjust="spacingAndGlyphs">Neuron</text><text transform="translate(81.0 690.7) rotate(-90)" font-size="16.2" font-weight="bold" fill="#000" textLength="226" lengthAdjust="spacingAndGlyphs">Projection target brain region</text><text transform="translate(352.5 690.7) rotate(-90)" font-size="16.2" font-weight="bold" fill="#000" textLength="226.2" lengthAdjust="spacingAndGlyphs">Projection target brain region</text><text x="37.7" y="16.7" font-size="25" fill="#000">A</text><text x="620.0" y="16.7" font-size="25" fill="#000">B</text><text x="0" y="174.3" font-size="14.6" font-weight="bold" fill="#1a1a1a" textLength="80.7" lengthAdjust="spacingAndGlyphs">Cross-edited</text><text x="20.6" y="193" font-size="14.6" font-weight="bold" fill="#1a1a1a" textLength="40.4" lengthAdjust="spacingAndGlyphs">length</text><text x="24.7" y="212.4" font-size="14.6" font-weight="bold" fill="#1a1a1a" textLength="31.3" lengthAdjust="spacingAndGlyphs">(µm)</text><text x="602.4" y="174.3" font-size="14.6" font-weight="bold" fill="#1a1a1a" textLength="83.5" lengthAdjust="spacingAndGlyphs">Total neurite</text><text x="623" y="193" font-size="14.6" font-weight="bold" fill="#1a1a1a" textLength="41.2" lengthAdjust="spacingAndGlyphs">length</text><text x="628.8" y="212.4" font-size="14.6" font-weight="bold" fill="#1a1a1a" textLength="30.5" lengthAdjust="spacingAndGlyphs">(µm)</text><defs>
<linearGradient id="gb" x1="0" y1="0" x2="0" y2="1"><stop offset="0" stop-color="#5454b8"/><stop offset="0.5" stop-color="#9c9cd6"/><stop offset="1" stop-color="#ffffff"/></linearGradient>
<linearGradient id="go" x1="0" y1="0" x2="0" y2="1"><stop offset="0" stop-color="#ebba48"/><stop offset="0.5" stop-color="#f2d68e"/><stop offset="1" stop-color="#ffffff"/></linearGradient>
<linearGradient id="gB" x1="0" y1="0" x2="0" y2="1"><stop offset="0" stop-color="#5546f3"/><stop offset="0.5" stop-color="#9a92f7"/><stop offset="1" stop-color="#f6f6ff"/></linearGradient>
</defs><rect x="28" y="240.8" width="9.9" height="74" fill="url(#gb)"/><rect x="44" y="240.8" width="10.7" height="74" fill="url(#go)"/><rect x="630.8" y="237.9" width="11.3" height="81.5" fill="url(#gB)"/><g font-weight="bold" fill="#1a1a1a" font-size="12.5"><text x="31.7" y="238">-</text><text x="47.2" y="237.9">+</text></g><text x="58.3" y="254.9" font-size="13.8" font-weight="bold" fill="#111">10<tspan font-size="9.8" dx="0.2" dy="-5.0">4</tspan></text><text x="58.3" y="293.1" font-size="13.8" font-weight="bold" fill="#111">10<tspan font-size="9.8" dx="0.2" dy="-4.5">2</tspan></text><text x="57.9" y="331.4" font-size="13.8" font-weight="bold" fill="#111">0</text><text x="649.5" y="252.9" font-size="13.3" font-weight="bold" fill="#111">10<tspan font-size="9.4" dx="0.2" dy="-5.0">4</tspan></text><text x="649.5" y="286.9" font-size="13.3" font-weight="bold" fill="#111">10<tspan font-size="9.4" dx="0.2" dy="-4.5">2</tspan></text><text x="646.3" y="325.5" font-size="12.8" fill="#3a3a3a">0</text></svg>
</body></html>
